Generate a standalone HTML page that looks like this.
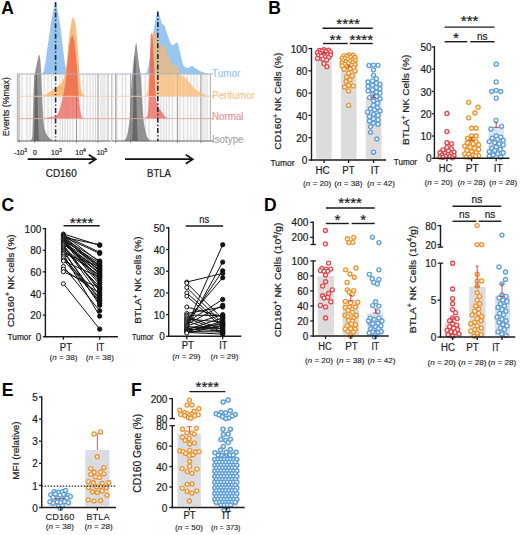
<!DOCTYPE html>
<html><head><meta charset="utf-8"><style>
html,body{margin:0;padding:0;background:#fff;width:520px;height:535px;overflow:hidden;}
svg{display:block;font-family:"Liberation Sans", sans-serif;}
</style></head><body>
<svg width="520" height="535" viewBox="0 0 520 535">
<rect width="520" height="535" fill="#fff"/>
<rect x="316.10" y="53.61" width="15.60" height="105.19" fill="#dcdcdc"/>
<rect x="341.00" y="66.98" width="15.60" height="91.82" fill="#dcdcdc"/>
<rect x="365.80" y="97.62" width="15.80" height="61.18" fill="#e0dcdc"/>
<circle cx="370.50" cy="132.37" r="2.0" stroke="#5d9edb" fill="#fff" stroke-width="1.35"/>
<circle cx="376.80" cy="138.95" r="2.0" stroke="#5d9edb" fill="#fff" stroke-width="1.35"/>
<circle cx="324.00" cy="49.71" r="2.0" stroke="#e5464b" fill="#fff" stroke-width="1.35"/>
<circle cx="328.50" cy="50.27" r="2.0" stroke="#e5464b" fill="#fff" stroke-width="1.35"/>
<circle cx="319.50" cy="50.49" r="2.0" stroke="#e5464b" fill="#fff" stroke-width="1.35"/>
<circle cx="322.00" cy="51.05" r="2.0" stroke="#e5464b" fill="#fff" stroke-width="1.35"/>
<circle cx="326.00" cy="51.72" r="2.0" stroke="#e5464b" fill="#fff" stroke-width="1.35"/>
<circle cx="330.50" cy="52.16" r="2.0" stroke="#e5464b" fill="#fff" stroke-width="1.35"/>
<circle cx="317.50" cy="52.72" r="2.0" stroke="#e5464b" fill="#fff" stroke-width="1.35"/>
<circle cx="320.50" cy="53.28" r="2.0" stroke="#e5464b" fill="#fff" stroke-width="1.35"/>
<circle cx="323.50" cy="53.95" r="2.0" stroke="#e5464b" fill="#fff" stroke-width="1.35"/>
<circle cx="328.00" cy="54.39" r="2.0" stroke="#e5464b" fill="#fff" stroke-width="1.35"/>
<circle cx="330.50" cy="54.95" r="2.0" stroke="#e5464b" fill="#fff" stroke-width="1.35"/>
<circle cx="318.50" cy="55.51" r="2.0" stroke="#e5464b" fill="#fff" stroke-width="1.35"/>
<circle cx="321.50" cy="56.18" r="2.0" stroke="#e5464b" fill="#fff" stroke-width="1.35"/>
<circle cx="325.50" cy="56.84" r="2.0" stroke="#e5464b" fill="#fff" stroke-width="1.35"/>
<circle cx="328.50" cy="57.51" r="2.0" stroke="#e5464b" fill="#fff" stroke-width="1.35"/>
<circle cx="317.50" cy="58.40" r="2.0" stroke="#e5464b" fill="#fff" stroke-width="1.35"/>
<circle cx="323.00" cy="59.18" r="2.0" stroke="#e5464b" fill="#fff" stroke-width="1.35"/>
<circle cx="326.50" cy="59.96" r="2.0" stroke="#e5464b" fill="#fff" stroke-width="1.35"/>
<circle cx="324.00" cy="63.64" r="2.0" stroke="#e5464b" fill="#fff" stroke-width="1.35"/>
<circle cx="327.00" cy="66.65" r="2.0" stroke="#e5464b" fill="#fff" stroke-width="1.35"/>
<circle cx="348.60" cy="54.95" r="2.0" stroke="#f0922a" fill="#fff" stroke-width="1.35"/>
<circle cx="353.10" cy="55.28" r="2.0" stroke="#f0922a" fill="#fff" stroke-width="1.35"/>
<circle cx="344.10" cy="55.84" r="2.0" stroke="#f0922a" fill="#fff" stroke-width="1.35"/>
<circle cx="346.60" cy="56.40" r="2.0" stroke="#f0922a" fill="#fff" stroke-width="1.35"/>
<circle cx="350.60" cy="56.95" r="2.0" stroke="#f0922a" fill="#fff" stroke-width="1.35"/>
<circle cx="355.10" cy="57.51" r="2.0" stroke="#f0922a" fill="#fff" stroke-width="1.35"/>
<circle cx="342.10" cy="58.07" r="2.0" stroke="#f0922a" fill="#fff" stroke-width="1.35"/>
<circle cx="345.10" cy="58.63" r="2.0" stroke="#f0922a" fill="#fff" stroke-width="1.35"/>
<circle cx="348.10" cy="59.18" r="2.0" stroke="#f0922a" fill="#fff" stroke-width="1.35"/>
<circle cx="352.60" cy="59.74" r="2.0" stroke="#f0922a" fill="#fff" stroke-width="1.35"/>
<circle cx="355.10" cy="60.30" r="2.0" stroke="#f0922a" fill="#fff" stroke-width="1.35"/>
<circle cx="343.10" cy="60.85" r="2.0" stroke="#f0922a" fill="#fff" stroke-width="1.35"/>
<circle cx="350.10" cy="61.41" r="2.0" stroke="#f0922a" fill="#fff" stroke-width="1.35"/>
<circle cx="346.10" cy="61.97" r="2.0" stroke="#f0922a" fill="#fff" stroke-width="1.35"/>
<circle cx="353.10" cy="62.53" r="2.0" stroke="#f0922a" fill="#fff" stroke-width="1.35"/>
<circle cx="342.10" cy="63.08" r="2.0" stroke="#f0922a" fill="#fff" stroke-width="1.35"/>
<circle cx="348.60" cy="63.64" r="2.0" stroke="#f0922a" fill="#fff" stroke-width="1.35"/>
<circle cx="344.60" cy="64.20" r="2.0" stroke="#f0922a" fill="#fff" stroke-width="1.35"/>
<circle cx="355.10" cy="64.75" r="2.0" stroke="#f0922a" fill="#fff" stroke-width="1.35"/>
<circle cx="351.60" cy="65.31" r="2.0" stroke="#f0922a" fill="#fff" stroke-width="1.35"/>
<circle cx="342.10" cy="65.87" r="2.0" stroke="#f0922a" fill="#fff" stroke-width="1.35"/>
<circle cx="347.10" cy="66.42" r="2.0" stroke="#f0922a" fill="#fff" stroke-width="1.35"/>
<circle cx="353.60" cy="67.54" r="2.0" stroke="#f0922a" fill="#fff" stroke-width="1.35"/>
<circle cx="350.10" cy="68.65" r="2.0" stroke="#f0922a" fill="#fff" stroke-width="1.35"/>
<circle cx="344.10" cy="69.21" r="2.0" stroke="#f0922a" fill="#fff" stroke-width="1.35"/>
<circle cx="355.10" cy="70.88" r="2.0" stroke="#f0922a" fill="#fff" stroke-width="1.35"/>
<circle cx="348.60" cy="73.11" r="2.0" stroke="#f0922a" fill="#fff" stroke-width="1.35"/>
<circle cx="352.10" cy="75.89" r="2.0" stroke="#f0922a" fill="#fff" stroke-width="1.35"/>
<circle cx="346.60" cy="77.01" r="2.0" stroke="#f0922a" fill="#fff" stroke-width="1.35"/>
<circle cx="350.10" cy="79.79" r="2.0" stroke="#f0922a" fill="#fff" stroke-width="1.35"/>
<circle cx="346.10" cy="81.46" r="2.0" stroke="#f0922a" fill="#fff" stroke-width="1.35"/>
<circle cx="348.60" cy="85.36" r="2.0" stroke="#f0922a" fill="#fff" stroke-width="1.35"/>
<circle cx="353.10" cy="85.92" r="2.0" stroke="#f0922a" fill="#fff" stroke-width="1.35"/>
<circle cx="344.60" cy="87.03" r="2.0" stroke="#f0922a" fill="#fff" stroke-width="1.35"/>
<circle cx="348.60" cy="90.93" r="2.0" stroke="#f0922a" fill="#fff" stroke-width="1.35"/>
<circle cx="348.60" cy="105.41" r="2.0" stroke="#f0922a" fill="#fff" stroke-width="1.35"/>
<circle cx="373.50" cy="65.09" r="2.0" stroke="#5d9edb" fill="#fff" stroke-width="1.35"/>
<circle cx="378.00" cy="65.31" r="2.0" stroke="#5d9edb" fill="#fff" stroke-width="1.35"/>
<circle cx="369.00" cy="65.53" r="2.0" stroke="#5d9edb" fill="#fff" stroke-width="1.35"/>
<circle cx="373.50" cy="69.77" r="2.0" stroke="#5d9edb" fill="#fff" stroke-width="1.35"/>
<circle cx="373.50" cy="75.34" r="2.0" stroke="#5d9edb" fill="#fff" stroke-width="1.35"/>
<circle cx="376.50" cy="78.68" r="2.0" stroke="#5d9edb" fill="#fff" stroke-width="1.35"/>
<circle cx="372.50" cy="80.91" r="2.0" stroke="#5d9edb" fill="#fff" stroke-width="1.35"/>
<circle cx="368.00" cy="82.02" r="2.0" stroke="#5d9edb" fill="#fff" stroke-width="1.35"/>
<circle cx="376.50" cy="83.13" r="2.0" stroke="#5d9edb" fill="#fff" stroke-width="1.35"/>
<circle cx="380.00" cy="84.25" r="2.0" stroke="#5d9edb" fill="#fff" stroke-width="1.35"/>
<circle cx="372.50" cy="85.36" r="2.0" stroke="#5d9edb" fill="#fff" stroke-width="1.35"/>
<circle cx="368.00" cy="86.48" r="2.0" stroke="#5d9edb" fill="#fff" stroke-width="1.35"/>
<circle cx="376.50" cy="87.59" r="2.0" stroke="#5d9edb" fill="#fff" stroke-width="1.35"/>
<circle cx="380.00" cy="88.70" r="2.0" stroke="#5d9edb" fill="#fff" stroke-width="1.35"/>
<circle cx="372.50" cy="89.82" r="2.0" stroke="#5d9edb" fill="#fff" stroke-width="1.35"/>
<circle cx="368.00" cy="90.93" r="2.0" stroke="#5d9edb" fill="#fff" stroke-width="1.35"/>
<circle cx="376.50" cy="92.05" r="2.0" stroke="#5d9edb" fill="#fff" stroke-width="1.35"/>
<circle cx="380.00" cy="93.16" r="2.0" stroke="#5d9edb" fill="#fff" stroke-width="1.35"/>
<circle cx="372.50" cy="94.27" r="2.0" stroke="#5d9edb" fill="#fff" stroke-width="1.35"/>
<circle cx="376.50" cy="96.50" r="2.0" stroke="#5d9edb" fill="#fff" stroke-width="1.35"/>
<circle cx="369.50" cy="97.62" r="2.0" stroke="#5d9edb" fill="#fff" stroke-width="1.35"/>
<circle cx="380.00" cy="98.73" r="2.0" stroke="#5d9edb" fill="#fff" stroke-width="1.35"/>
<circle cx="373.50" cy="100.96" r="2.0" stroke="#5d9edb" fill="#fff" stroke-width="1.35"/>
<circle cx="377.50" cy="103.19" r="2.0" stroke="#5d9edb" fill="#fff" stroke-width="1.35"/>
<circle cx="373.50" cy="105.41" r="2.0" stroke="#5d9edb" fill="#fff" stroke-width="1.35"/>
<circle cx="377.50" cy="107.64" r="2.0" stroke="#5d9edb" fill="#fff" stroke-width="1.35"/>
<circle cx="370.50" cy="108.76" r="2.0" stroke="#5d9edb" fill="#fff" stroke-width="1.35"/>
<circle cx="374.50" cy="109.87" r="2.0" stroke="#5d9edb" fill="#fff" stroke-width="1.35"/>
<circle cx="380.00" cy="110.98" r="2.0" stroke="#5d9edb" fill="#fff" stroke-width="1.35"/>
<circle cx="367.50" cy="112.10" r="2.0" stroke="#5d9edb" fill="#fff" stroke-width="1.35"/>
<circle cx="373.50" cy="114.33" r="2.0" stroke="#5d9edb" fill="#fff" stroke-width="1.35"/>
<circle cx="378.00" cy="115.44" r="2.0" stroke="#5d9edb" fill="#fff" stroke-width="1.35"/>
<circle cx="369.50" cy="116.55" r="2.0" stroke="#5d9edb" fill="#fff" stroke-width="1.35"/>
<circle cx="373.50" cy="118.78" r="2.0" stroke="#5d9edb" fill="#fff" stroke-width="1.35"/>
<circle cx="378.00" cy="119.90" r="2.0" stroke="#5d9edb" fill="#fff" stroke-width="1.35"/>
<circle cx="369.50" cy="121.01" r="2.0" stroke="#5d9edb" fill="#fff" stroke-width="1.35"/>
<circle cx="373.50" cy="123.24" r="2.0" stroke="#5d9edb" fill="#fff" stroke-width="1.35"/>
<circle cx="378.00" cy="124.35" r="2.0" stroke="#5d9edb" fill="#fff" stroke-width="1.35"/>
<circle cx="370.50" cy="126.58" r="2.0" stroke="#5d9edb" fill="#fff" stroke-width="1.35"/>
<circle cx="373.50" cy="152.20" r="2.0" stroke="#5d9edb" fill="#fff" stroke-width="1.35"/>
<line x1="324.00" y1="53.61" x2="324.00" y2="52.83" stroke="#c83a3a" stroke-width="1.0" stroke-linecap="butt"/>
<line x1="322.50" y1="52.83" x2="325.50" y2="52.83" stroke="#c83a3a" stroke-width="1.0" stroke-linecap="butt"/>
<line x1="321.30" y1="53.61" x2="326.70" y2="53.61" stroke="#c83a3a" stroke-width="1.0" stroke-linecap="butt"/>
<line x1="348.60" y1="66.98" x2="348.60" y2="65.31" stroke="#c25a12" stroke-width="1.0" stroke-linecap="butt"/>
<line x1="347.10" y1="65.31" x2="350.10" y2="65.31" stroke="#c25a12" stroke-width="1.0" stroke-linecap="butt"/>
<line x1="345.90" y1="66.98" x2="351.30" y2="66.98" stroke="#c25a12" stroke-width="1.0" stroke-linecap="butt"/>
<line x1="373.50" y1="97.62" x2="373.50" y2="94.83" stroke="#a84a5a" stroke-width="1.0" stroke-linecap="butt"/>
<line x1="372.00" y1="94.83" x2="375.00" y2="94.83" stroke="#a84a5a" stroke-width="1.0" stroke-linecap="butt"/>
<line x1="370.80" y1="97.62" x2="376.20" y2="97.62" stroke="#a84a5a" stroke-width="1.0" stroke-linecap="butt"/>
<line x1="311.50" y1="160.70" x2="311.50" y2="47.90" stroke="#1a1a1a" stroke-width="1.4" stroke-linecap="butt"/>
<line x1="310.80" y1="160.00" x2="386.20" y2="160.00" stroke="#1a1a1a" stroke-width="1.4" stroke-linecap="butt"/>
<line x1="308.50" y1="160.00" x2="311.50" y2="160.00" stroke="#1a1a1a" stroke-width="1.3" stroke-linecap="butt"/>
<text x="307.40" y="164.10" font-size="10" text-anchor="end" fill="#1a1a1a" stroke="#1a1a1a" stroke-width="0.2">0</text>
<line x1="308.50" y1="137.72" x2="311.50" y2="137.72" stroke="#1a1a1a" stroke-width="1.3" stroke-linecap="butt"/>
<text x="307.40" y="141.82" font-size="10" text-anchor="end" fill="#1a1a1a" stroke="#1a1a1a" stroke-width="0.2">20</text>
<line x1="308.50" y1="115.44" x2="311.50" y2="115.44" stroke="#1a1a1a" stroke-width="1.3" stroke-linecap="butt"/>
<text x="307.40" y="119.54" font-size="10" text-anchor="end" fill="#1a1a1a" stroke="#1a1a1a" stroke-width="0.2">40</text>
<line x1="308.50" y1="93.16" x2="311.50" y2="93.16" stroke="#1a1a1a" stroke-width="1.3" stroke-linecap="butt"/>
<text x="307.40" y="97.26" font-size="10" text-anchor="end" fill="#1a1a1a" stroke="#1a1a1a" stroke-width="0.2">60</text>
<line x1="308.50" y1="70.88" x2="311.50" y2="70.88" stroke="#1a1a1a" stroke-width="1.3" stroke-linecap="butt"/>
<text x="307.40" y="74.98" font-size="10" text-anchor="end" fill="#1a1a1a" stroke="#1a1a1a" stroke-width="0.2">80</text>
<line x1="308.50" y1="48.60" x2="311.50" y2="48.60" stroke="#1a1a1a" stroke-width="1.3" stroke-linecap="butt"/>
<text x="307.40" y="52.70" font-size="10" text-anchor="end" fill="#1a1a1a" stroke="#1a1a1a" stroke-width="0.2">100</text>
<line x1="324.00" y1="160.00" x2="324.00" y2="163.00" stroke="#1a1a1a" stroke-width="1.3" stroke-linecap="butt"/>
<line x1="348.60" y1="160.00" x2="348.60" y2="163.00" stroke="#1a1a1a" stroke-width="1.3" stroke-linecap="butt"/>
<line x1="373.50" y1="160.00" x2="373.50" y2="163.00" stroke="#1a1a1a" stroke-width="1.3" stroke-linecap="butt"/>
<text x="322.60" y="173.50" font-size="10" text-anchor="middle" fill="#1a1a1a" stroke="#1a1a1a" stroke-width="0.2" textLength="14.2" lengthAdjust="spacingAndGlyphs">HC</text>
<text x="348.40" y="173.50" font-size="10" text-anchor="middle" fill="#1a1a1a" stroke="#1a1a1a" stroke-width="0.2" textLength="12.4" lengthAdjust="spacingAndGlyphs">PT</text>
<text x="375.00" y="173.50" font-size="10" text-anchor="middle" fill="#1a1a1a" stroke="#1a1a1a" stroke-width="0.2" textLength="8.6" lengthAdjust="spacingAndGlyphs">IT</text>
<text x="317.10" y="185.60" font-size="8.1" text-anchor="middle" fill="#222" stroke="#222" stroke-width="0.12">(<tspan font-style="italic">n</tspan> = 20)</text>
<text x="348.40" y="185.60" font-size="8.1" text-anchor="middle" fill="#222" stroke="#222" stroke-width="0.12">(<tspan font-style="italic">n</tspan> = 38)</text>
<text x="381.00" y="185.60" font-size="8.1" text-anchor="middle" fill="#222" stroke="#222" stroke-width="0.12">(<tspan font-style="italic">n</tspan> = 42)</text>
<text x="270.50" y="166.00" font-size="8.7" text-anchor="start" fill="#1a1a1a" stroke="#1a1a1a" stroke-width="0.2" textLength="24" lengthAdjust="spacingAndGlyphs">Tumor</text>
<text x="281.30" y="101.20" font-size="9.9" text-anchor="middle" fill="#1a1a1a" stroke="#1a1a1a" stroke-width="0.2" transform="rotate(-90 281.30 101.20)" textLength="97" lengthAdjust="spacingAndGlyphs">CD160<tspan dy="-3.6" font-size="6.6">+</tspan><tspan dy="3.6"> NK Cells (%)</tspan></text>
<line x1="322.50" y1="28.20" x2="372.80" y2="28.20" stroke="#1a1a1a" stroke-width="1.4" stroke-linecap="butt"/>
<text x="348.20" y="28.60" font-size="15.2" text-anchor="middle" fill="#1a1a1a" stroke="#1a1a1a" stroke-width="0.2">****</text>
<line x1="323.00" y1="43.50" x2="347.70" y2="43.50" stroke="#1a1a1a" stroke-width="1.4" stroke-linecap="butt"/>
<text x="335.40" y="44.50" font-size="15.2" text-anchor="middle" fill="#1a1a1a" stroke="#1a1a1a" stroke-width="0.2">**</text>
<line x1="349.70" y1="43.50" x2="372.80" y2="43.50" stroke="#1a1a1a" stroke-width="1.4" stroke-linecap="butt"/>
<text x="361.30" y="44.50" font-size="15.2" text-anchor="middle" fill="#1a1a1a" stroke="#1a1a1a" stroke-width="0.2">****</text>
<rect x="439.20" y="148.94" width="15.60" height="8.16" fill="#e4e0e2"/>
<rect x="464.20" y="140.48" width="15.60" height="16.62" fill="#dfe2e8"/>
<rect x="488.40" y="127.33" width="15.60" height="29.77" fill="#dbe5f2"/>
<circle cx="468.60" cy="102.30" r="2.0" stroke="#f0922a" fill="#fff" stroke-width="1.35"/>
<circle cx="478.10" cy="107.20" r="2.0" stroke="#f0922a" fill="#fff" stroke-width="1.35"/>
<circle cx="474.90" cy="113.00" r="2.0" stroke="#f0922a" fill="#fff" stroke-width="1.35"/>
<circle cx="468.60" cy="117.80" r="2.0" stroke="#f0922a" fill="#fff" stroke-width="1.35"/>
<circle cx="496.00" cy="120.30" r="2.0" stroke="#5d9edb" fill="#fff" stroke-width="1.35"/>
<circle cx="501.50" cy="126.30" r="2.0" stroke="#5d9edb" fill="#fff" stroke-width="1.35"/>
<circle cx="491.00" cy="129.00" r="2.0" stroke="#5d9edb" fill="#fff" stroke-width="1.35"/>
<circle cx="447.00" cy="113.52" r="2.0" stroke="#e5464b" fill="#fff" stroke-width="1.35"/>
<circle cx="447.00" cy="131.56" r="2.0" stroke="#e5464b" fill="#fff" stroke-width="1.35"/>
<circle cx="447.00" cy="142.70" r="2.0" stroke="#e5464b" fill="#fff" stroke-width="1.35"/>
<circle cx="451.50" cy="143.82" r="2.0" stroke="#e5464b" fill="#fff" stroke-width="1.35"/>
<circle cx="447.00" cy="147.61" r="2.0" stroke="#e5464b" fill="#fff" stroke-width="1.35"/>
<circle cx="451.50" cy="148.94" r="2.0" stroke="#e5464b" fill="#fff" stroke-width="1.35"/>
<circle cx="443.00" cy="149.83" r="2.0" stroke="#e5464b" fill="#fff" stroke-width="1.35"/>
<circle cx="448.50" cy="151.17" r="2.0" stroke="#e5464b" fill="#fff" stroke-width="1.35"/>
<circle cx="454.00" cy="152.06" r="2.0" stroke="#e5464b" fill="#fff" stroke-width="1.35"/>
<circle cx="440.00" cy="152.73" r="2.0" stroke="#e5464b" fill="#fff" stroke-width="1.35"/>
<circle cx="445.00" cy="153.40" r="2.0" stroke="#e5464b" fill="#fff" stroke-width="1.35"/>
<circle cx="451.00" cy="153.84" r="2.0" stroke="#e5464b" fill="#fff" stroke-width="1.35"/>
<circle cx="448.00" cy="154.51" r="2.0" stroke="#e5464b" fill="#fff" stroke-width="1.35"/>
<circle cx="442.00" cy="155.18" r="2.0" stroke="#e5464b" fill="#fff" stroke-width="1.35"/>
<circle cx="454.00" cy="155.63" r="2.0" stroke="#e5464b" fill="#fff" stroke-width="1.35"/>
<circle cx="445.50" cy="156.07" r="2.0" stroke="#e5464b" fill="#fff" stroke-width="1.35"/>
<circle cx="450.00" cy="156.52" r="2.0" stroke="#e5464b" fill="#fff" stroke-width="1.35"/>
<circle cx="440.00" cy="156.96" r="2.0" stroke="#e5464b" fill="#fff" stroke-width="1.35"/>
<circle cx="443.00" cy="157.41" r="2.0" stroke="#e5464b" fill="#fff" stroke-width="1.35"/>
<circle cx="452.50" cy="157.85" r="2.0" stroke="#e5464b" fill="#fff" stroke-width="1.35"/>
<circle cx="471.60" cy="128.22" r="2.0" stroke="#f0922a" fill="#fff" stroke-width="1.35"/>
<circle cx="476.10" cy="128.22" r="2.0" stroke="#f0922a" fill="#fff" stroke-width="1.35"/>
<circle cx="471.60" cy="136.02" r="2.0" stroke="#f0922a" fill="#fff" stroke-width="1.35"/>
<circle cx="476.10" cy="136.02" r="2.0" stroke="#f0922a" fill="#fff" stroke-width="1.35"/>
<circle cx="467.60" cy="138.25" r="2.0" stroke="#f0922a" fill="#fff" stroke-width="1.35"/>
<circle cx="471.60" cy="140.48" r="2.0" stroke="#f0922a" fill="#fff" stroke-width="1.35"/>
<circle cx="476.10" cy="141.59" r="2.0" stroke="#f0922a" fill="#fff" stroke-width="1.35"/>
<circle cx="467.60" cy="142.70" r="2.0" stroke="#f0922a" fill="#fff" stroke-width="1.35"/>
<circle cx="473.10" cy="143.82" r="2.0" stroke="#f0922a" fill="#fff" stroke-width="1.35"/>
<circle cx="478.60" cy="144.93" r="2.0" stroke="#f0922a" fill="#fff" stroke-width="1.35"/>
<circle cx="464.60" cy="146.05" r="2.0" stroke="#f0922a" fill="#fff" stroke-width="1.35"/>
<circle cx="470.10" cy="147.16" r="2.0" stroke="#f0922a" fill="#fff" stroke-width="1.35"/>
<circle cx="474.60" cy="148.27" r="2.0" stroke="#f0922a" fill="#fff" stroke-width="1.35"/>
<circle cx="478.60" cy="149.39" r="2.0" stroke="#f0922a" fill="#fff" stroke-width="1.35"/>
<circle cx="467.10" cy="150.50" r="2.0" stroke="#f0922a" fill="#fff" stroke-width="1.35"/>
<circle cx="471.60" cy="151.62" r="2.0" stroke="#f0922a" fill="#fff" stroke-width="1.35"/>
<circle cx="476.10" cy="152.73" r="2.0" stroke="#f0922a" fill="#fff" stroke-width="1.35"/>
<circle cx="464.60" cy="153.84" r="2.0" stroke="#f0922a" fill="#fff" stroke-width="1.35"/>
<circle cx="468.60" cy="154.29" r="2.0" stroke="#f0922a" fill="#fff" stroke-width="1.35"/>
<circle cx="473.10" cy="154.96" r="2.0" stroke="#f0922a" fill="#fff" stroke-width="1.35"/>
<circle cx="478.60" cy="155.63" r="2.0" stroke="#f0922a" fill="#fff" stroke-width="1.35"/>
<circle cx="475.60" cy="156.07" r="2.0" stroke="#f0922a" fill="#fff" stroke-width="1.35"/>
<circle cx="466.10" cy="156.96" r="2.0" stroke="#f0922a" fill="#fff" stroke-width="1.35"/>
<circle cx="470.10" cy="157.63" r="2.0" stroke="#f0922a" fill="#fff" stroke-width="1.35"/>
<circle cx="496.20" cy="64.28" r="2.0" stroke="#5d9edb" fill="#fff" stroke-width="1.35"/>
<circle cx="496.20" cy="81.88" r="2.0" stroke="#5d9edb" fill="#fff" stroke-width="1.35"/>
<circle cx="496.20" cy="90.35" r="2.0" stroke="#5d9edb" fill="#fff" stroke-width="1.35"/>
<circle cx="500.70" cy="91.46" r="2.0" stroke="#5d9edb" fill="#fff" stroke-width="1.35"/>
<circle cx="491.70" cy="91.46" r="2.0" stroke="#5d9edb" fill="#fff" stroke-width="1.35"/>
<circle cx="496.20" cy="98.14" r="2.0" stroke="#5d9edb" fill="#fff" stroke-width="1.35"/>
<circle cx="496.20" cy="136.02" r="2.0" stroke="#5d9edb" fill="#fff" stroke-width="1.35"/>
<circle cx="500.70" cy="137.13" r="2.0" stroke="#5d9edb" fill="#fff" stroke-width="1.35"/>
<circle cx="492.20" cy="138.25" r="2.0" stroke="#5d9edb" fill="#fff" stroke-width="1.35"/>
<circle cx="497.70" cy="139.36" r="2.0" stroke="#5d9edb" fill="#fff" stroke-width="1.35"/>
<circle cx="503.20" cy="140.48" r="2.0" stroke="#5d9edb" fill="#fff" stroke-width="1.35"/>
<circle cx="489.20" cy="141.59" r="2.0" stroke="#5d9edb" fill="#fff" stroke-width="1.35"/>
<circle cx="494.70" cy="142.70" r="2.0" stroke="#5d9edb" fill="#fff" stroke-width="1.35"/>
<circle cx="499.20" cy="143.82" r="2.0" stroke="#5d9edb" fill="#fff" stroke-width="1.35"/>
<circle cx="503.20" cy="144.93" r="2.0" stroke="#5d9edb" fill="#fff" stroke-width="1.35"/>
<circle cx="496.20" cy="147.16" r="2.0" stroke="#5d9edb" fill="#fff" stroke-width="1.35"/>
<circle cx="491.70" cy="148.27" r="2.0" stroke="#5d9edb" fill="#fff" stroke-width="1.35"/>
<circle cx="500.20" cy="149.39" r="2.0" stroke="#5d9edb" fill="#fff" stroke-width="1.35"/>
<circle cx="494.70" cy="150.50" r="2.0" stroke="#5d9edb" fill="#fff" stroke-width="1.35"/>
<circle cx="489.20" cy="151.62" r="2.0" stroke="#5d9edb" fill="#fff" stroke-width="1.35"/>
<circle cx="503.20" cy="152.73" r="2.0" stroke="#5d9edb" fill="#fff" stroke-width="1.35"/>
<circle cx="497.70" cy="153.84" r="2.0" stroke="#5d9edb" fill="#fff" stroke-width="1.35"/>
<circle cx="493.20" cy="154.96" r="2.0" stroke="#5d9edb" fill="#fff" stroke-width="1.35"/>
<circle cx="489.20" cy="156.07" r="2.0" stroke="#5d9edb" fill="#fff" stroke-width="1.35"/>
<circle cx="500.70" cy="157.19" r="2.0" stroke="#5d9edb" fill="#fff" stroke-width="1.35"/>
<line x1="496.20" y1="127.33" x2="496.20" y2="122.65" stroke="#a84a5a" stroke-width="1.0" stroke-linecap="butt"/>
<line x1="494.70" y1="122.65" x2="497.70" y2="122.65" stroke="#a84a5a" stroke-width="1.0" stroke-linecap="butt"/>
<line x1="493.50" y1="127.33" x2="498.90" y2="127.33" stroke="#a84a5a" stroke-width="1.0" stroke-linecap="butt"/>
<line x1="471.60" y1="140.48" x2="471.60" y2="137.13" stroke="#c25a12" stroke-width="1.0" stroke-linecap="butt"/>
<line x1="470.10" y1="137.13" x2="473.10" y2="137.13" stroke="#c25a12" stroke-width="1.0" stroke-linecap="butt"/>
<line x1="468.90" y1="140.48" x2="474.30" y2="140.48" stroke="#c25a12" stroke-width="1.0" stroke-linecap="butt"/>
<line x1="434.40" y1="159.00" x2="434.40" y2="46.20" stroke="#1a1a1a" stroke-width="1.4" stroke-linecap="butt"/>
<line x1="433.70" y1="158.30" x2="509.40" y2="158.30" stroke="#1a1a1a" stroke-width="1.4" stroke-linecap="butt"/>
<line x1="432.10" y1="158.30" x2="434.40" y2="158.30" stroke="#1a1a1a" stroke-width="1.3" stroke-linecap="butt"/>
<text x="431.50" y="162.40" font-size="10" text-anchor="end" fill="#1a1a1a" stroke="#1a1a1a" stroke-width="0.2">0</text>
<line x1="432.10" y1="136.02" x2="434.40" y2="136.02" stroke="#1a1a1a" stroke-width="1.3" stroke-linecap="butt"/>
<text x="431.50" y="140.12" font-size="10" text-anchor="end" fill="#1a1a1a" stroke="#1a1a1a" stroke-width="0.2">10</text>
<line x1="432.10" y1="113.74" x2="434.40" y2="113.74" stroke="#1a1a1a" stroke-width="1.3" stroke-linecap="butt"/>
<text x="431.50" y="117.84" font-size="10" text-anchor="end" fill="#1a1a1a" stroke="#1a1a1a" stroke-width="0.2">20</text>
<line x1="432.10" y1="91.46" x2="434.40" y2="91.46" stroke="#1a1a1a" stroke-width="1.3" stroke-linecap="butt"/>
<text x="431.50" y="95.56" font-size="10" text-anchor="end" fill="#1a1a1a" stroke="#1a1a1a" stroke-width="0.2">30</text>
<line x1="432.10" y1="69.18" x2="434.40" y2="69.18" stroke="#1a1a1a" stroke-width="1.3" stroke-linecap="butt"/>
<text x="431.50" y="73.28" font-size="10" text-anchor="end" fill="#1a1a1a" stroke="#1a1a1a" stroke-width="0.2">40</text>
<line x1="432.10" y1="46.90" x2="434.40" y2="46.90" stroke="#1a1a1a" stroke-width="1.3" stroke-linecap="butt"/>
<text x="431.50" y="51.00" font-size="10" text-anchor="end" fill="#1a1a1a" stroke="#1a1a1a" stroke-width="0.2">50</text>
<line x1="447.00" y1="158.30" x2="447.00" y2="161.30" stroke="#1a1a1a" stroke-width="1.3" stroke-linecap="butt"/>
<line x1="471.60" y1="158.30" x2="471.60" y2="161.30" stroke="#1a1a1a" stroke-width="1.3" stroke-linecap="butt"/>
<line x1="496.20" y1="158.30" x2="496.20" y2="161.30" stroke="#1a1a1a" stroke-width="1.3" stroke-linecap="butt"/>
<text x="445.60" y="172.10" font-size="10" text-anchor="middle" fill="#1a1a1a" stroke="#1a1a1a" stroke-width="0.2" textLength="13.5" lengthAdjust="spacingAndGlyphs">HC</text>
<text x="472.30" y="172.10" font-size="10" text-anchor="middle" fill="#1a1a1a" stroke="#1a1a1a" stroke-width="0.2" textLength="12.9" lengthAdjust="spacingAndGlyphs">PT</text>
<text x="498.20" y="172.10" font-size="10" text-anchor="middle" fill="#1a1a1a" stroke="#1a1a1a" stroke-width="0.2" textLength="9" lengthAdjust="spacingAndGlyphs">IT</text>
<text x="438.70" y="184.80" font-size="8.1" text-anchor="middle" fill="#222" stroke="#222" stroke-width="0.12">(<tspan font-style="italic">n</tspan> = 20)</text>
<text x="471.50" y="184.80" font-size="8.1" text-anchor="middle" fill="#222" stroke="#222" stroke-width="0.12">(<tspan font-style="italic">n</tspan> = 28)</text>
<text x="503.10" y="184.80" font-size="8.1" text-anchor="middle" fill="#222" stroke="#222" stroke-width="0.12">(<tspan font-style="italic">n</tspan> = 28)</text>
<text x="393.80" y="164.50" font-size="8.7" text-anchor="start" fill="#1a1a1a" stroke="#1a1a1a" stroke-width="0.2" textLength="23.2" lengthAdjust="spacingAndGlyphs">Tumor</text>
<text x="409.20" y="99.80" font-size="9.9" text-anchor="middle" fill="#1a1a1a" stroke="#1a1a1a" stroke-width="0.2" transform="rotate(-90 409.20 99.80)" textLength="90.4" lengthAdjust="spacingAndGlyphs">BTLA<tspan dy="-3.6" font-size="6.6">+</tspan><tspan dy="3.6"> NK Cells (%)</tspan></text>
<line x1="444.60" y1="27.10" x2="494.60" y2="27.10" stroke="#1a1a1a" stroke-width="1.4" stroke-linecap="butt"/>
<text x="469.60" y="26.30" font-size="15.2" text-anchor="middle" fill="#1a1a1a" stroke="#1a1a1a" stroke-width="0.2">***</text>
<line x1="444.60" y1="41.70" x2="467.30" y2="41.70" stroke="#1a1a1a" stroke-width="1.4" stroke-linecap="butt"/>
<text x="456.00" y="43.30" font-size="15.2" text-anchor="middle" fill="#1a1a1a" stroke="#1a1a1a" stroke-width="0.2">*</text>
<line x1="470.20" y1="41.70" x2="494.60" y2="41.70" stroke="#1a1a1a" stroke-width="1.4" stroke-linecap="butt"/>
<text x="482.20" y="40.30" font-size="11" text-anchor="middle" fill="#1a1a1a" stroke="#1a1a1a" stroke-width="0.2" textLength="10.6" lengthAdjust="spacingAndGlyphs">ns</text>
<line x1="63.40" y1="234.00" x2="99.70" y2="245.36" stroke="#111" stroke-width="1.0" stroke-linecap="butt"/>
<line x1="63.40" y1="234.55" x2="99.70" y2="262.11" stroke="#111" stroke-width="1.0" stroke-linecap="butt"/>
<line x1="63.40" y1="235.09" x2="99.70" y2="252.38" stroke="#111" stroke-width="1.0" stroke-linecap="butt"/>
<line x1="63.40" y1="235.63" x2="99.70" y2="267.52" stroke="#111" stroke-width="1.0" stroke-linecap="butt"/>
<line x1="63.40" y1="236.17" x2="99.70" y2="271.84" stroke="#111" stroke-width="1.0" stroke-linecap="butt"/>
<line x1="63.40" y1="236.71" x2="99.70" y2="253.46" stroke="#111" stroke-width="1.0" stroke-linecap="butt"/>
<line x1="63.40" y1="237.25" x2="99.70" y2="244.81" stroke="#111" stroke-width="1.0" stroke-linecap="butt"/>
<line x1="63.40" y1="237.79" x2="99.70" y2="268.60" stroke="#111" stroke-width="1.0" stroke-linecap="butt"/>
<line x1="63.40" y1="238.33" x2="99.70" y2="261.03" stroke="#111" stroke-width="1.0" stroke-linecap="butt"/>
<line x1="63.40" y1="238.87" x2="99.70" y2="280.49" stroke="#111" stroke-width="1.0" stroke-linecap="butt"/>
<line x1="63.40" y1="239.41" x2="99.70" y2="265.35" stroke="#111" stroke-width="1.0" stroke-linecap="butt"/>
<line x1="63.40" y1="239.95" x2="99.70" y2="282.65" stroke="#111" stroke-width="1.0" stroke-linecap="butt"/>
<line x1="63.40" y1="240.49" x2="99.70" y2="263.19" stroke="#111" stroke-width="1.0" stroke-linecap="butt"/>
<line x1="63.40" y1="241.03" x2="99.70" y2="278.33" stroke="#111" stroke-width="1.0" stroke-linecap="butt"/>
<line x1="63.40" y1="241.57" x2="99.70" y2="284.81" stroke="#111" stroke-width="1.0" stroke-linecap="butt"/>
<line x1="63.40" y1="242.11" x2="99.70" y2="270.76" stroke="#111" stroke-width="1.0" stroke-linecap="butt"/>
<line x1="63.40" y1="242.65" x2="99.70" y2="265.35" stroke="#111" stroke-width="1.0" stroke-linecap="butt"/>
<line x1="63.40" y1="243.19" x2="99.70" y2="272.92" stroke="#111" stroke-width="1.0" stroke-linecap="butt"/>
<line x1="63.40" y1="243.73" x2="99.70" y2="274.00" stroke="#111" stroke-width="1.0" stroke-linecap="butt"/>
<line x1="63.40" y1="244.27" x2="99.70" y2="269.68" stroke="#111" stroke-width="1.0" stroke-linecap="butt"/>
<line x1="63.40" y1="244.81" x2="99.70" y2="291.30" stroke="#111" stroke-width="1.0" stroke-linecap="butt"/>
<line x1="63.40" y1="245.90" x2="99.70" y2="295.62" stroke="#111" stroke-width="1.0" stroke-linecap="butt"/>
<line x1="63.40" y1="246.98" x2="99.70" y2="289.14" stroke="#111" stroke-width="1.0" stroke-linecap="butt"/>
<line x1="63.40" y1="248.06" x2="99.70" y2="276.16" stroke="#111" stroke-width="1.0" stroke-linecap="butt"/>
<line x1="63.40" y1="249.14" x2="99.70" y2="286.97" stroke="#111" stroke-width="1.0" stroke-linecap="butt"/>
<line x1="63.40" y1="250.22" x2="99.70" y2="305.35" stroke="#111" stroke-width="1.0" stroke-linecap="butt"/>
<line x1="63.40" y1="251.30" x2="99.70" y2="275.08" stroke="#111" stroke-width="1.0" stroke-linecap="butt"/>
<line x1="63.40" y1="252.38" x2="99.70" y2="299.95" stroke="#111" stroke-width="1.0" stroke-linecap="butt"/>
<line x1="63.40" y1="253.46" x2="99.70" y2="266.44" stroke="#111" stroke-width="1.0" stroke-linecap="butt"/>
<line x1="63.40" y1="254.54" x2="99.70" y2="316.16" stroke="#111" stroke-width="1.0" stroke-linecap="butt"/>
<line x1="63.40" y1="256.17" x2="99.70" y2="303.19" stroke="#111" stroke-width="1.0" stroke-linecap="butt"/>
<line x1="63.40" y1="257.79" x2="99.70" y2="297.78" stroke="#111" stroke-width="1.0" stroke-linecap="butt"/>
<line x1="63.40" y1="259.95" x2="99.70" y2="301.03" stroke="#111" stroke-width="1.0" stroke-linecap="butt"/>
<line x1="63.40" y1="261.03" x2="99.70" y2="277.25" stroke="#111" stroke-width="1.0" stroke-linecap="butt"/>
<line x1="63.40" y1="266.44" x2="99.70" y2="310.76" stroke="#111" stroke-width="1.0" stroke-linecap="butt"/>
<line x1="63.40" y1="269.14" x2="99.70" y2="293.46" stroke="#111" stroke-width="1.0" stroke-linecap="butt"/>
<line x1="63.40" y1="271.84" x2="99.70" y2="288.06" stroke="#111" stroke-width="1.0" stroke-linecap="butt"/>
<line x1="63.40" y1="283.73" x2="99.70" y2="329.13" stroke="#111" stroke-width="1.0" stroke-linecap="butt"/>
<circle cx="63.40" cy="234.00" r="2.0" stroke="#111" fill="#fff" stroke-width="1.0"/>
<circle cx="63.40" cy="234.55" r="2.0" stroke="#111" fill="#fff" stroke-width="1.0"/>
<circle cx="63.40" cy="235.09" r="2.0" stroke="#111" fill="#fff" stroke-width="1.0"/>
<circle cx="63.40" cy="235.63" r="2.0" stroke="#111" fill="#fff" stroke-width="1.0"/>
<circle cx="63.40" cy="236.17" r="2.0" stroke="#111" fill="#fff" stroke-width="1.0"/>
<circle cx="63.40" cy="236.71" r="2.0" stroke="#111" fill="#fff" stroke-width="1.0"/>
<circle cx="63.40" cy="237.25" r="2.0" stroke="#111" fill="#fff" stroke-width="1.0"/>
<circle cx="63.40" cy="237.79" r="2.0" stroke="#111" fill="#fff" stroke-width="1.0"/>
<circle cx="63.40" cy="238.33" r="2.0" stroke="#111" fill="#fff" stroke-width="1.0"/>
<circle cx="63.40" cy="238.87" r="2.0" stroke="#111" fill="#fff" stroke-width="1.0"/>
<circle cx="63.40" cy="239.41" r="2.0" stroke="#111" fill="#fff" stroke-width="1.0"/>
<circle cx="63.40" cy="239.95" r="2.0" stroke="#111" fill="#fff" stroke-width="1.0"/>
<circle cx="63.40" cy="240.49" r="2.0" stroke="#111" fill="#fff" stroke-width="1.0"/>
<circle cx="63.40" cy="241.03" r="2.0" stroke="#111" fill="#fff" stroke-width="1.0"/>
<circle cx="63.40" cy="241.57" r="2.0" stroke="#111" fill="#fff" stroke-width="1.0"/>
<circle cx="63.40" cy="242.11" r="2.0" stroke="#111" fill="#fff" stroke-width="1.0"/>
<circle cx="63.40" cy="242.65" r="2.0" stroke="#111" fill="#fff" stroke-width="1.0"/>
<circle cx="63.40" cy="243.19" r="2.0" stroke="#111" fill="#fff" stroke-width="1.0"/>
<circle cx="63.40" cy="243.73" r="2.0" stroke="#111" fill="#fff" stroke-width="1.0"/>
<circle cx="63.40" cy="244.27" r="2.0" stroke="#111" fill="#fff" stroke-width="1.0"/>
<circle cx="63.40" cy="244.81" r="2.0" stroke="#111" fill="#fff" stroke-width="1.0"/>
<circle cx="63.40" cy="245.90" r="2.0" stroke="#111" fill="#fff" stroke-width="1.0"/>
<circle cx="63.40" cy="246.98" r="2.0" stroke="#111" fill="#fff" stroke-width="1.0"/>
<circle cx="63.40" cy="248.06" r="2.0" stroke="#111" fill="#fff" stroke-width="1.0"/>
<circle cx="63.40" cy="249.14" r="2.0" stroke="#111" fill="#fff" stroke-width="1.0"/>
<circle cx="63.40" cy="250.22" r="2.0" stroke="#111" fill="#fff" stroke-width="1.0"/>
<circle cx="63.40" cy="251.30" r="2.0" stroke="#111" fill="#fff" stroke-width="1.0"/>
<circle cx="63.40" cy="252.38" r="2.0" stroke="#111" fill="#fff" stroke-width="1.0"/>
<circle cx="63.40" cy="253.46" r="2.0" stroke="#111" fill="#fff" stroke-width="1.0"/>
<circle cx="63.40" cy="254.54" r="2.0" stroke="#111" fill="#fff" stroke-width="1.0"/>
<circle cx="63.40" cy="256.17" r="2.0" stroke="#111" fill="#fff" stroke-width="1.0"/>
<circle cx="63.40" cy="257.79" r="2.0" stroke="#111" fill="#fff" stroke-width="1.0"/>
<circle cx="63.40" cy="259.95" r="2.0" stroke="#111" fill="#fff" stroke-width="1.0"/>
<circle cx="63.40" cy="261.03" r="2.0" stroke="#111" fill="#fff" stroke-width="1.0"/>
<circle cx="63.40" cy="266.44" r="2.0" stroke="#111" fill="#fff" stroke-width="1.0"/>
<circle cx="63.40" cy="269.14" r="2.0" stroke="#111" fill="#fff" stroke-width="1.0"/>
<circle cx="63.40" cy="271.84" r="2.0" stroke="#111" fill="#fff" stroke-width="1.0"/>
<circle cx="63.40" cy="283.73" r="2.0" stroke="#111" fill="#fff" stroke-width="1.0"/>
<circle cx="99.70" cy="245.36" r="2.2" stroke="#111" fill="#111" stroke-width="0.8"/>
<circle cx="99.70" cy="262.11" r="2.2" stroke="#111" fill="#111" stroke-width="0.8"/>
<circle cx="99.70" cy="252.38" r="2.2" stroke="#111" fill="#111" stroke-width="0.8"/>
<circle cx="99.70" cy="267.52" r="2.2" stroke="#111" fill="#111" stroke-width="0.8"/>
<circle cx="99.70" cy="271.84" r="2.2" stroke="#111" fill="#111" stroke-width="0.8"/>
<circle cx="99.70" cy="253.46" r="2.2" stroke="#111" fill="#111" stroke-width="0.8"/>
<circle cx="99.70" cy="244.81" r="2.2" stroke="#111" fill="#111" stroke-width="0.8"/>
<circle cx="99.70" cy="268.60" r="2.2" stroke="#111" fill="#111" stroke-width="0.8"/>
<circle cx="99.70" cy="261.03" r="2.2" stroke="#111" fill="#111" stroke-width="0.8"/>
<circle cx="99.70" cy="280.49" r="2.2" stroke="#111" fill="#111" stroke-width="0.8"/>
<circle cx="99.70" cy="265.35" r="2.2" stroke="#111" fill="#111" stroke-width="0.8"/>
<circle cx="99.70" cy="282.65" r="2.2" stroke="#111" fill="#111" stroke-width="0.8"/>
<circle cx="99.70" cy="263.19" r="2.2" stroke="#111" fill="#111" stroke-width="0.8"/>
<circle cx="99.70" cy="278.33" r="2.2" stroke="#111" fill="#111" stroke-width="0.8"/>
<circle cx="99.70" cy="284.81" r="2.2" stroke="#111" fill="#111" stroke-width="0.8"/>
<circle cx="99.70" cy="270.76" r="2.2" stroke="#111" fill="#111" stroke-width="0.8"/>
<circle cx="99.70" cy="265.35" r="2.2" stroke="#111" fill="#111" stroke-width="0.8"/>
<circle cx="99.70" cy="272.92" r="2.2" stroke="#111" fill="#111" stroke-width="0.8"/>
<circle cx="99.70" cy="274.00" r="2.2" stroke="#111" fill="#111" stroke-width="0.8"/>
<circle cx="99.70" cy="269.68" r="2.2" stroke="#111" fill="#111" stroke-width="0.8"/>
<circle cx="99.70" cy="291.30" r="2.2" stroke="#111" fill="#111" stroke-width="0.8"/>
<circle cx="99.70" cy="295.62" r="2.2" stroke="#111" fill="#111" stroke-width="0.8"/>
<circle cx="99.70" cy="289.14" r="2.2" stroke="#111" fill="#111" stroke-width="0.8"/>
<circle cx="99.70" cy="276.16" r="2.2" stroke="#111" fill="#111" stroke-width="0.8"/>
<circle cx="99.70" cy="286.97" r="2.2" stroke="#111" fill="#111" stroke-width="0.8"/>
<circle cx="99.70" cy="305.35" r="2.2" stroke="#111" fill="#111" stroke-width="0.8"/>
<circle cx="99.70" cy="275.08" r="2.2" stroke="#111" fill="#111" stroke-width="0.8"/>
<circle cx="99.70" cy="299.95" r="2.2" stroke="#111" fill="#111" stroke-width="0.8"/>
<circle cx="99.70" cy="266.44" r="2.2" stroke="#111" fill="#111" stroke-width="0.8"/>
<circle cx="99.70" cy="316.16" r="2.2" stroke="#111" fill="#111" stroke-width="0.8"/>
<circle cx="99.70" cy="303.19" r="2.2" stroke="#111" fill="#111" stroke-width="0.8"/>
<circle cx="99.70" cy="297.78" r="2.2" stroke="#111" fill="#111" stroke-width="0.8"/>
<circle cx="99.70" cy="301.03" r="2.2" stroke="#111" fill="#111" stroke-width="0.8"/>
<circle cx="99.70" cy="277.25" r="2.2" stroke="#111" fill="#111" stroke-width="0.8"/>
<circle cx="99.70" cy="310.76" r="2.2" stroke="#111" fill="#111" stroke-width="0.8"/>
<circle cx="99.70" cy="293.46" r="2.2" stroke="#111" fill="#111" stroke-width="0.8"/>
<circle cx="99.70" cy="288.06" r="2.2" stroke="#111" fill="#111" stroke-width="0.8"/>
<circle cx="99.70" cy="329.13" r="2.2" stroke="#111" fill="#111" stroke-width="0.8"/>
<line x1="45.40" y1="337.40" x2="45.40" y2="227.90" stroke="#1a1a1a" stroke-width="1.4" stroke-linecap="butt"/>
<line x1="44.70" y1="336.70" x2="117.90" y2="336.70" stroke="#1a1a1a" stroke-width="1.4" stroke-linecap="butt"/>
<line x1="42.80" y1="336.70" x2="45.40" y2="336.70" stroke="#1a1a1a" stroke-width="1.3" stroke-linecap="butt"/>
<text x="41.30" y="340.80" font-size="10" text-anchor="end" fill="#1a1a1a" stroke="#1a1a1a" stroke-width="0.2">0</text>
<line x1="42.80" y1="315.08" x2="45.40" y2="315.08" stroke="#1a1a1a" stroke-width="1.3" stroke-linecap="butt"/>
<text x="41.30" y="319.18" font-size="10" text-anchor="end" fill="#1a1a1a" stroke="#1a1a1a" stroke-width="0.2">20</text>
<line x1="42.80" y1="293.46" x2="45.40" y2="293.46" stroke="#1a1a1a" stroke-width="1.3" stroke-linecap="butt"/>
<text x="41.30" y="297.56" font-size="10" text-anchor="end" fill="#1a1a1a" stroke="#1a1a1a" stroke-width="0.2">40</text>
<line x1="42.80" y1="271.84" x2="45.40" y2="271.84" stroke="#1a1a1a" stroke-width="1.3" stroke-linecap="butt"/>
<text x="41.30" y="275.94" font-size="10" text-anchor="end" fill="#1a1a1a" stroke="#1a1a1a" stroke-width="0.2">60</text>
<line x1="42.80" y1="250.22" x2="45.40" y2="250.22" stroke="#1a1a1a" stroke-width="1.3" stroke-linecap="butt"/>
<text x="41.30" y="254.32" font-size="10" text-anchor="end" fill="#1a1a1a" stroke="#1a1a1a" stroke-width="0.2">80</text>
<line x1="42.80" y1="228.60" x2="45.40" y2="228.60" stroke="#1a1a1a" stroke-width="1.3" stroke-linecap="butt"/>
<text x="41.30" y="232.70" font-size="10" text-anchor="end" fill="#1a1a1a" stroke="#1a1a1a" stroke-width="0.2">100</text>
<line x1="63.40" y1="336.70" x2="63.40" y2="339.70" stroke="#1a1a1a" stroke-width="1.3" stroke-linecap="butt"/>
<line x1="99.70" y1="336.70" x2="99.70" y2="339.70" stroke="#1a1a1a" stroke-width="1.3" stroke-linecap="butt"/>
<text x="65.90" y="350.80" font-size="10" text-anchor="middle" fill="#1a1a1a" stroke="#1a1a1a" stroke-width="0.2" textLength="12.1" lengthAdjust="spacingAndGlyphs">PT</text>
<text x="100.20" y="350.80" font-size="10" text-anchor="middle" fill="#1a1a1a" stroke="#1a1a1a" stroke-width="0.2" textLength="8" lengthAdjust="spacingAndGlyphs">IT</text>
<text x="63.50" y="360.10" font-size="8.1" text-anchor="middle" fill="#222" stroke="#222" stroke-width="0.12">(<tspan font-style="italic">n</tspan> = 38)</text>
<text x="99.80" y="360.10" font-size="8.1" text-anchor="middle" fill="#222" stroke="#222" stroke-width="0.12">(<tspan font-style="italic">n</tspan> = 38)</text>
<text x="7.50" y="339.50" font-size="8.7" text-anchor="start" fill="#1a1a1a" stroke="#1a1a1a" stroke-width="0.2" textLength="23.7" lengthAdjust="spacingAndGlyphs">Tumor</text>
<text x="13.60" y="280.80" font-size="9.9" text-anchor="middle" fill="#1a1a1a" stroke="#1a1a1a" stroke-width="0.2" transform="rotate(-90 13.60 280.80)" textLength="93" lengthAdjust="spacingAndGlyphs">CD160<tspan dy="-3.6" font-size="6.6">+</tspan><tspan dy="3.6"> NK cells (%)</tspan></text>
<line x1="63.50" y1="225.80" x2="99.70" y2="225.80" stroke="#1a1a1a" stroke-width="1.4" stroke-linecap="butt"/>
<text x="81.60" y="228.00" font-size="15.2" text-anchor="middle" fill="#1a1a1a" stroke="#1a1a1a" stroke-width="0.2">****</text>
<line x1="186.80" y1="282.05" x2="222.70" y2="273.37" stroke="#111" stroke-width="1.0" stroke-linecap="butt"/>
<line x1="186.80" y1="283.13" x2="222.70" y2="318.94" stroke="#111" stroke-width="1.0" stroke-linecap="butt"/>
<line x1="186.80" y1="287.48" x2="222.70" y2="323.28" stroke="#111" stroke-width="1.0" stroke-linecap="butt"/>
<line x1="186.80" y1="292.90" x2="222.70" y2="325.45" stroke="#111" stroke-width="1.0" stroke-linecap="butt"/>
<line x1="186.80" y1="296.16" x2="222.70" y2="327.62" stroke="#111" stroke-width="1.0" stroke-linecap="butt"/>
<line x1="186.80" y1="307.00" x2="222.70" y2="316.77" stroke="#111" stroke-width="1.0" stroke-linecap="butt"/>
<line x1="186.80" y1="313.51" x2="222.70" y2="307.00" stroke="#111" stroke-width="1.0" stroke-linecap="butt"/>
<line x1="186.80" y1="315.03" x2="222.70" y2="315.69" stroke="#111" stroke-width="1.0" stroke-linecap="butt"/>
<line x1="186.80" y1="316.12" x2="222.70" y2="329.79" stroke="#111" stroke-width="1.0" stroke-linecap="butt"/>
<line x1="186.80" y1="317.86" x2="222.70" y2="331.96" stroke="#111" stroke-width="1.0" stroke-linecap="butt"/>
<line x1="186.80" y1="318.94" x2="222.70" y2="322.19" stroke="#111" stroke-width="1.0" stroke-linecap="butt"/>
<line x1="186.80" y1="320.03" x2="222.70" y2="277.71" stroke="#111" stroke-width="1.0" stroke-linecap="butt"/>
<line x1="186.80" y1="321.11" x2="222.70" y2="333.05" stroke="#111" stroke-width="1.0" stroke-linecap="butt"/>
<line x1="186.80" y1="322.19" x2="222.70" y2="299.41" stroke="#111" stroke-width="1.0" stroke-linecap="butt"/>
<line x1="186.80" y1="323.28" x2="222.70" y2="270.77" stroke="#111" stroke-width="1.0" stroke-linecap="butt"/>
<line x1="186.80" y1="324.37" x2="222.70" y2="305.27" stroke="#111" stroke-width="1.0" stroke-linecap="butt"/>
<line x1="186.80" y1="325.45" x2="222.70" y2="244.73" stroke="#111" stroke-width="1.0" stroke-linecap="butt"/>
<line x1="186.80" y1="325.88" x2="222.70" y2="314.60" stroke="#111" stroke-width="1.0" stroke-linecap="butt"/>
<line x1="186.80" y1="326.54" x2="222.70" y2="328.70" stroke="#111" stroke-width="1.0" stroke-linecap="butt"/>
<line x1="186.80" y1="327.62" x2="222.70" y2="262.09" stroke="#111" stroke-width="1.0" stroke-linecap="butt"/>
<line x1="186.80" y1="328.49" x2="222.70" y2="324.37" stroke="#111" stroke-width="1.0" stroke-linecap="butt"/>
<line x1="186.80" y1="329.14" x2="222.70" y2="330.88" stroke="#111" stroke-width="1.0" stroke-linecap="butt"/>
<line x1="186.80" y1="329.79" x2="222.70" y2="317.86" stroke="#111" stroke-width="1.0" stroke-linecap="butt"/>
<line x1="186.80" y1="330.22" x2="222.70" y2="326.54" stroke="#111" stroke-width="1.0" stroke-linecap="butt"/>
<line x1="186.80" y1="330.88" x2="222.70" y2="323.28" stroke="#111" stroke-width="1.0" stroke-linecap="butt"/>
<line x1="186.80" y1="331.53" x2="222.70" y2="331.96" stroke="#111" stroke-width="1.0" stroke-linecap="butt"/>
<line x1="186.80" y1="331.96" x2="222.70" y2="321.11" stroke="#111" stroke-width="1.0" stroke-linecap="butt"/>
<line x1="186.80" y1="332.39" x2="222.70" y2="334.13" stroke="#111" stroke-width="1.0" stroke-linecap="butt"/>
<line x1="186.80" y1="333.05" x2="222.70" y2="325.45" stroke="#111" stroke-width="1.0" stroke-linecap="butt"/>
<circle cx="186.80" cy="282.05" r="2.0" stroke="#111" fill="#fff" stroke-width="1.0"/>
<circle cx="186.80" cy="283.13" r="2.0" stroke="#111" fill="#fff" stroke-width="1.0"/>
<circle cx="186.80" cy="287.48" r="2.0" stroke="#111" fill="#fff" stroke-width="1.0"/>
<circle cx="186.80" cy="292.90" r="2.0" stroke="#111" fill="#fff" stroke-width="1.0"/>
<circle cx="186.80" cy="296.16" r="2.0" stroke="#111" fill="#fff" stroke-width="1.0"/>
<circle cx="186.80" cy="307.00" r="2.0" stroke="#111" fill="#fff" stroke-width="1.0"/>
<circle cx="186.80" cy="313.51" r="2.0" stroke="#111" fill="#fff" stroke-width="1.0"/>
<circle cx="186.80" cy="315.03" r="2.0" stroke="#111" fill="#fff" stroke-width="1.0"/>
<circle cx="186.80" cy="316.12" r="2.0" stroke="#111" fill="#fff" stroke-width="1.0"/>
<circle cx="186.80" cy="317.86" r="2.0" stroke="#111" fill="#fff" stroke-width="1.0"/>
<circle cx="186.80" cy="318.94" r="2.0" stroke="#111" fill="#fff" stroke-width="1.0"/>
<circle cx="186.80" cy="320.03" r="2.0" stroke="#111" fill="#fff" stroke-width="1.0"/>
<circle cx="186.80" cy="321.11" r="2.0" stroke="#111" fill="#fff" stroke-width="1.0"/>
<circle cx="186.80" cy="322.19" r="2.0" stroke="#111" fill="#fff" stroke-width="1.0"/>
<circle cx="186.80" cy="323.28" r="2.0" stroke="#111" fill="#fff" stroke-width="1.0"/>
<circle cx="186.80" cy="324.37" r="2.0" stroke="#111" fill="#fff" stroke-width="1.0"/>
<circle cx="186.80" cy="325.45" r="2.0" stroke="#111" fill="#fff" stroke-width="1.0"/>
<circle cx="186.80" cy="325.88" r="2.0" stroke="#111" fill="#fff" stroke-width="1.0"/>
<circle cx="186.80" cy="326.54" r="2.0" stroke="#111" fill="#fff" stroke-width="1.0"/>
<circle cx="186.80" cy="327.62" r="2.0" stroke="#111" fill="#fff" stroke-width="1.0"/>
<circle cx="186.80" cy="328.49" r="2.0" stroke="#111" fill="#fff" stroke-width="1.0"/>
<circle cx="186.80" cy="329.14" r="2.0" stroke="#111" fill="#fff" stroke-width="1.0"/>
<circle cx="186.80" cy="329.79" r="2.0" stroke="#111" fill="#fff" stroke-width="1.0"/>
<circle cx="186.80" cy="330.22" r="2.0" stroke="#111" fill="#fff" stroke-width="1.0"/>
<circle cx="186.80" cy="330.88" r="2.0" stroke="#111" fill="#fff" stroke-width="1.0"/>
<circle cx="186.80" cy="331.53" r="2.0" stroke="#111" fill="#fff" stroke-width="1.0"/>
<circle cx="186.80" cy="331.96" r="2.0" stroke="#111" fill="#fff" stroke-width="1.0"/>
<circle cx="186.80" cy="332.39" r="2.0" stroke="#111" fill="#fff" stroke-width="1.0"/>
<circle cx="186.80" cy="333.05" r="2.0" stroke="#111" fill="#fff" stroke-width="1.0"/>
<circle cx="222.70" cy="273.37" r="2.2" stroke="#111" fill="#111" stroke-width="0.8"/>
<circle cx="222.70" cy="318.94" r="2.2" stroke="#111" fill="#111" stroke-width="0.8"/>
<circle cx="222.70" cy="323.28" r="2.2" stroke="#111" fill="#111" stroke-width="0.8"/>
<circle cx="222.70" cy="325.45" r="2.2" stroke="#111" fill="#111" stroke-width="0.8"/>
<circle cx="222.70" cy="327.62" r="2.2" stroke="#111" fill="#111" stroke-width="0.8"/>
<circle cx="222.70" cy="316.77" r="2.2" stroke="#111" fill="#111" stroke-width="0.8"/>
<circle cx="222.70" cy="307.00" r="2.2" stroke="#111" fill="#111" stroke-width="0.8"/>
<circle cx="222.70" cy="315.69" r="2.2" stroke="#111" fill="#111" stroke-width="0.8"/>
<circle cx="222.70" cy="329.79" r="2.2" stroke="#111" fill="#111" stroke-width="0.8"/>
<circle cx="222.70" cy="331.96" r="2.2" stroke="#111" fill="#111" stroke-width="0.8"/>
<circle cx="222.70" cy="322.19" r="2.2" stroke="#111" fill="#111" stroke-width="0.8"/>
<circle cx="222.70" cy="277.71" r="2.2" stroke="#111" fill="#111" stroke-width="0.8"/>
<circle cx="222.70" cy="333.05" r="2.2" stroke="#111" fill="#111" stroke-width="0.8"/>
<circle cx="222.70" cy="299.41" r="2.2" stroke="#111" fill="#111" stroke-width="0.8"/>
<circle cx="222.70" cy="270.77" r="2.2" stroke="#111" fill="#111" stroke-width="0.8"/>
<circle cx="222.70" cy="305.27" r="2.2" stroke="#111" fill="#111" stroke-width="0.8"/>
<circle cx="222.70" cy="244.73" r="2.2" stroke="#111" fill="#111" stroke-width="0.8"/>
<circle cx="222.70" cy="314.60" r="2.2" stroke="#111" fill="#111" stroke-width="0.8"/>
<circle cx="222.70" cy="328.70" r="2.2" stroke="#111" fill="#111" stroke-width="0.8"/>
<circle cx="222.70" cy="262.09" r="2.2" stroke="#111" fill="#111" stroke-width="0.8"/>
<circle cx="222.70" cy="324.37" r="2.2" stroke="#111" fill="#111" stroke-width="0.8"/>
<circle cx="222.70" cy="330.88" r="2.2" stroke="#111" fill="#111" stroke-width="0.8"/>
<circle cx="222.70" cy="317.86" r="2.2" stroke="#111" fill="#111" stroke-width="0.8"/>
<circle cx="222.70" cy="326.54" r="2.2" stroke="#111" fill="#111" stroke-width="0.8"/>
<circle cx="222.70" cy="323.28" r="2.2" stroke="#111" fill="#111" stroke-width="0.8"/>
<circle cx="222.70" cy="331.96" r="2.2" stroke="#111" fill="#111" stroke-width="0.8"/>
<circle cx="222.70" cy="321.11" r="2.2" stroke="#111" fill="#111" stroke-width="0.8"/>
<circle cx="222.70" cy="334.13" r="2.2" stroke="#111" fill="#111" stroke-width="0.8"/>
<circle cx="222.70" cy="325.45" r="2.2" stroke="#111" fill="#111" stroke-width="0.8"/>
<line x1="168.70" y1="337.00" x2="168.70" y2="227.10" stroke="#1a1a1a" stroke-width="1.4" stroke-linecap="butt"/>
<line x1="168.00" y1="336.30" x2="241.30" y2="336.30" stroke="#1a1a1a" stroke-width="1.4" stroke-linecap="butt"/>
<line x1="166.10" y1="336.30" x2="168.70" y2="336.30" stroke="#1a1a1a" stroke-width="1.3" stroke-linecap="butt"/>
<text x="164.80" y="340.40" font-size="10" text-anchor="end" fill="#1a1a1a" stroke="#1a1a1a" stroke-width="0.2">0</text>
<line x1="166.10" y1="314.60" x2="168.70" y2="314.60" stroke="#1a1a1a" stroke-width="1.3" stroke-linecap="butt"/>
<text x="164.80" y="318.70" font-size="10" text-anchor="end" fill="#1a1a1a" stroke="#1a1a1a" stroke-width="0.2">10</text>
<line x1="166.10" y1="292.90" x2="168.70" y2="292.90" stroke="#1a1a1a" stroke-width="1.3" stroke-linecap="butt"/>
<text x="164.80" y="297.00" font-size="10" text-anchor="end" fill="#1a1a1a" stroke="#1a1a1a" stroke-width="0.2">20</text>
<line x1="166.10" y1="271.20" x2="168.70" y2="271.20" stroke="#1a1a1a" stroke-width="1.3" stroke-linecap="butt"/>
<text x="164.80" y="275.30" font-size="10" text-anchor="end" fill="#1a1a1a" stroke="#1a1a1a" stroke-width="0.2">30</text>
<line x1="166.10" y1="249.50" x2="168.70" y2="249.50" stroke="#1a1a1a" stroke-width="1.3" stroke-linecap="butt"/>
<text x="164.80" y="253.60" font-size="10" text-anchor="end" fill="#1a1a1a" stroke="#1a1a1a" stroke-width="0.2">40</text>
<line x1="166.10" y1="227.80" x2="168.70" y2="227.80" stroke="#1a1a1a" stroke-width="1.3" stroke-linecap="butt"/>
<text x="164.80" y="231.90" font-size="10" text-anchor="end" fill="#1a1a1a" stroke="#1a1a1a" stroke-width="0.2">50</text>
<line x1="186.80" y1="336.30" x2="186.80" y2="339.30" stroke="#1a1a1a" stroke-width="1.3" stroke-linecap="butt"/>
<line x1="222.70" y1="336.30" x2="222.70" y2="339.30" stroke="#1a1a1a" stroke-width="1.3" stroke-linecap="butt"/>
<text x="187.70" y="349.40" font-size="10" text-anchor="middle" fill="#1a1a1a" stroke="#1a1a1a" stroke-width="0.2" textLength="12.1" lengthAdjust="spacingAndGlyphs">PT</text>
<text x="223.30" y="349.40" font-size="10" text-anchor="middle" fill="#1a1a1a" stroke="#1a1a1a" stroke-width="0.2" textLength="8" lengthAdjust="spacingAndGlyphs">IT</text>
<text x="186.40" y="358.80" font-size="8.1" text-anchor="middle" fill="#222" stroke="#222" stroke-width="0.12">(<tspan font-style="italic">n</tspan> = 29)</text>
<text x="224.50" y="358.80" font-size="8.1" text-anchor="middle" fill="#222" stroke="#222" stroke-width="0.12">(<tspan font-style="italic">n</tspan> = 29)</text>
<text x="132.00" y="339.50" font-size="8.7" text-anchor="start" fill="#1a1a1a" stroke="#1a1a1a" stroke-width="0.2" textLength="21.5" lengthAdjust="spacingAndGlyphs">Tumor</text>
<text x="141.40" y="280.00" font-size="9.9" text-anchor="middle" fill="#1a1a1a" stroke="#1a1a1a" stroke-width="0.2" transform="rotate(-90 141.40 280.00)" textLength="87.4" lengthAdjust="spacingAndGlyphs">BTLA<tspan dy="-3.6" font-size="6.6">+</tspan><tspan dy="3.6"> NK cells (%)</tspan></text>
<line x1="185.70" y1="226.00" x2="223.10" y2="226.00" stroke="#1a1a1a" stroke-width="1.4" stroke-linecap="butt"/>
<text x="204.20" y="222.70" font-size="10.5" text-anchor="middle" fill="#1a1a1a" stroke="#1a1a1a" stroke-width="0.2" textLength="9.8" lengthAdjust="spacingAndGlyphs">ns</text>
<rect x="317.70" y="276.15" width="16.30" height="58.65" fill="#dcdcdc"/>
<rect x="342.60" y="300.70" width="16.40" height="34.10" fill="#dcdcdc"/>
<rect x="367.20" y="313.47" width="15.90" height="21.33" fill="#dadde5"/>
<circle cx="328.60" cy="263.10" r="2.0" stroke="#e5464b" fill="#fff" stroke-width="1.35"/>
<circle cx="321.90" cy="268.30" r="2.0" stroke="#e5464b" fill="#fff" stroke-width="1.35"/>
<circle cx="326.30" cy="269.10" r="2.0" stroke="#e5464b" fill="#fff" stroke-width="1.35"/>
<circle cx="330.80" cy="269.10" r="2.0" stroke="#e5464b" fill="#fff" stroke-width="1.35"/>
<circle cx="320.40" cy="270.60" r="2.0" stroke="#e5464b" fill="#fff" stroke-width="1.35"/>
<circle cx="324.10" cy="271.30" r="2.0" stroke="#e5464b" fill="#fff" stroke-width="1.35"/>
<circle cx="327.80" cy="271.30" r="2.0" stroke="#e5464b" fill="#fff" stroke-width="1.35"/>
<circle cx="325.60" cy="275.00" r="2.0" stroke="#e5464b" fill="#fff" stroke-width="1.35"/>
<circle cx="325.60" cy="281.70" r="2.0" stroke="#e5464b" fill="#fff" stroke-width="1.35"/>
<circle cx="322.60" cy="286.10" r="2.0" stroke="#e5464b" fill="#fff" stroke-width="1.35"/>
<circle cx="332.30" cy="289.80" r="2.0" stroke="#e5464b" fill="#fff" stroke-width="1.35"/>
<circle cx="328.60" cy="293.50" r="2.0" stroke="#e5464b" fill="#fff" stroke-width="1.35"/>
<circle cx="322.60" cy="295.70" r="2.0" stroke="#e5464b" fill="#fff" stroke-width="1.35"/>
<circle cx="324.10" cy="298.00" r="2.0" stroke="#e5464b" fill="#fff" stroke-width="1.35"/>
<circle cx="327.80" cy="297.20" r="2.0" stroke="#e5464b" fill="#fff" stroke-width="1.35"/>
<circle cx="330.80" cy="301.70" r="2.0" stroke="#e5464b" fill="#fff" stroke-width="1.35"/>
<circle cx="320.40" cy="305.40" r="2.0" stroke="#e5464b" fill="#fff" stroke-width="1.35"/>
<circle cx="325.60" cy="306.90" r="2.0" stroke="#e5464b" fill="#fff" stroke-width="1.35"/>
<circle cx="325.60" cy="318.00" r="2.0" stroke="#e5464b" fill="#fff" stroke-width="1.35"/>
<circle cx="356.00" cy="268.00" r="2.0" stroke="#f0922a" fill="#fff" stroke-width="1.35"/>
<circle cx="345.60" cy="269.80" r="2.0" stroke="#f0922a" fill="#fff" stroke-width="1.35"/>
<circle cx="350.00" cy="274.00" r="2.0" stroke="#f0922a" fill="#fff" stroke-width="1.35"/>
<circle cx="354.20" cy="277.20" r="2.0" stroke="#f0922a" fill="#fff" stroke-width="1.35"/>
<circle cx="347.10" cy="282.40" r="2.0" stroke="#f0922a" fill="#fff" stroke-width="1.35"/>
<circle cx="347.40" cy="289.80" r="2.0" stroke="#f0922a" fill="#fff" stroke-width="1.35"/>
<circle cx="353.70" cy="290.60" r="2.0" stroke="#f0922a" fill="#fff" stroke-width="1.35"/>
<circle cx="349.30" cy="292.00" r="2.0" stroke="#f0922a" fill="#fff" stroke-width="1.35"/>
<circle cx="352.30" cy="294.30" r="2.0" stroke="#f0922a" fill="#fff" stroke-width="1.35"/>
<circle cx="345.30" cy="301.30" r="2.0" stroke="#f0922a" fill="#fff" stroke-width="1.35"/>
<circle cx="350.60" cy="302.70" r="2.0" stroke="#f0922a" fill="#fff" stroke-width="1.35"/>
<circle cx="357.80" cy="302.20" r="2.0" stroke="#f0922a" fill="#fff" stroke-width="1.35"/>
<circle cx="345.30" cy="307.50" r="2.0" stroke="#f0922a" fill="#fff" stroke-width="1.35"/>
<circle cx="349.60" cy="307.00" r="2.0" stroke="#f0922a" fill="#fff" stroke-width="1.35"/>
<circle cx="355.40" cy="307.00" r="2.0" stroke="#f0922a" fill="#fff" stroke-width="1.35"/>
<circle cx="348.20" cy="310.40" r="2.0" stroke="#f0922a" fill="#fff" stroke-width="1.35"/>
<circle cx="352.50" cy="312.30" r="2.0" stroke="#f0922a" fill="#fff" stroke-width="1.35"/>
<circle cx="344.80" cy="315.20" r="2.0" stroke="#f0922a" fill="#fff" stroke-width="1.35"/>
<circle cx="347.70" cy="316.60" r="2.0" stroke="#f0922a" fill="#fff" stroke-width="1.35"/>
<circle cx="353.90" cy="317.60" r="2.0" stroke="#f0922a" fill="#fff" stroke-width="1.35"/>
<circle cx="356.30" cy="315.20" r="2.0" stroke="#f0922a" fill="#fff" stroke-width="1.35"/>
<circle cx="348.70" cy="320.50" r="2.0" stroke="#f0922a" fill="#fff" stroke-width="1.35"/>
<circle cx="352.50" cy="321.00" r="2.0" stroke="#f0922a" fill="#fff" stroke-width="1.35"/>
<circle cx="347.20" cy="325.80" r="2.0" stroke="#f0922a" fill="#fff" stroke-width="1.35"/>
<circle cx="355.40" cy="324.80" r="2.0" stroke="#f0922a" fill="#fff" stroke-width="1.35"/>
<circle cx="351.50" cy="323.80" r="2.0" stroke="#f0922a" fill="#fff" stroke-width="1.35"/>
<circle cx="345.30" cy="329.10" r="2.0" stroke="#f0922a" fill="#fff" stroke-width="1.35"/>
<circle cx="350.60" cy="328.70" r="2.0" stroke="#f0922a" fill="#fff" stroke-width="1.35"/>
<circle cx="355.40" cy="329.10" r="2.0" stroke="#f0922a" fill="#fff" stroke-width="1.35"/>
<circle cx="347.70" cy="331.50" r="2.0" stroke="#f0922a" fill="#fff" stroke-width="1.35"/>
<circle cx="353.50" cy="332.00" r="2.0" stroke="#f0922a" fill="#fff" stroke-width="1.35"/>
<circle cx="350.60" cy="335.90" r="2.0" stroke="#f0922a" fill="#fff" stroke-width="1.35"/>
<circle cx="378.90" cy="269.80" r="2.0" stroke="#5d9edb" fill="#fff" stroke-width="1.35"/>
<circle cx="369.30" cy="274.30" r="2.0" stroke="#5d9edb" fill="#fff" stroke-width="1.35"/>
<circle cx="372.30" cy="278.70" r="2.0" stroke="#5d9edb" fill="#fff" stroke-width="1.35"/>
<circle cx="378.90" cy="279.40" r="2.0" stroke="#5d9edb" fill="#fff" stroke-width="1.35"/>
<circle cx="373.70" cy="282.40" r="2.0" stroke="#5d9edb" fill="#fff" stroke-width="1.35"/>
<circle cx="377.40" cy="283.90" r="2.0" stroke="#5d9edb" fill="#fff" stroke-width="1.35"/>
<circle cx="375.60" cy="301.70" r="2.0" stroke="#5d9edb" fill="#fff" stroke-width="1.35"/>
<circle cx="372.70" cy="305.60" r="2.0" stroke="#5d9edb" fill="#fff" stroke-width="1.35"/>
<circle cx="378.90" cy="306.10" r="2.0" stroke="#5d9edb" fill="#fff" stroke-width="1.35"/>
<circle cx="378.00" cy="311.80" r="2.0" stroke="#5d9edb" fill="#fff" stroke-width="1.35"/>
<circle cx="370.30" cy="318.10" r="2.0" stroke="#5d9edb" fill="#fff" stroke-width="1.35"/>
<circle cx="378.90" cy="318.10" r="2.0" stroke="#5d9edb" fill="#fff" stroke-width="1.35"/>
<circle cx="374.10" cy="319.50" r="2.0" stroke="#5d9edb" fill="#fff" stroke-width="1.35"/>
<circle cx="370.30" cy="322.90" r="2.0" stroke="#5d9edb" fill="#fff" stroke-width="1.35"/>
<circle cx="372.70" cy="323.80" r="2.0" stroke="#5d9edb" fill="#fff" stroke-width="1.35"/>
<circle cx="378.00" cy="323.40" r="2.0" stroke="#5d9edb" fill="#fff" stroke-width="1.35"/>
<circle cx="380.90" cy="325.80" r="2.0" stroke="#5d9edb" fill="#fff" stroke-width="1.35"/>
<circle cx="375.60" cy="326.70" r="2.0" stroke="#5d9edb" fill="#fff" stroke-width="1.35"/>
<circle cx="370.80" cy="328.70" r="2.0" stroke="#5d9edb" fill="#fff" stroke-width="1.35"/>
<circle cx="373.70" cy="330.10" r="2.0" stroke="#5d9edb" fill="#fff" stroke-width="1.35"/>
<circle cx="378.50" cy="328.70" r="2.0" stroke="#5d9edb" fill="#fff" stroke-width="1.35"/>
<circle cx="372.70" cy="332.00" r="2.0" stroke="#5d9edb" fill="#fff" stroke-width="1.35"/>
<circle cx="378.00" cy="332.50" r="2.0" stroke="#5d9edb" fill="#fff" stroke-width="1.35"/>
<circle cx="375.10" cy="334.90" r="2.0" stroke="#5d9edb" fill="#fff" stroke-width="1.35"/>
<circle cx="368.50" cy="321.00" r="2.0" stroke="#5d9edb" fill="#fff" stroke-width="1.35"/>
<circle cx="382.00" cy="321.00" r="2.0" stroke="#5d9edb" fill="#fff" stroke-width="1.35"/>
<circle cx="369.20" cy="333.00" r="2.0" stroke="#5d9edb" fill="#fff" stroke-width="1.35"/>
<circle cx="381.20" cy="331.50" r="2.0" stroke="#5d9edb" fill="#fff" stroke-width="1.35"/>
<circle cx="374.60" cy="337.00" r="2.0" stroke="#5d9edb" fill="#fff" stroke-width="1.35"/>
<circle cx="325.40" cy="230.50" r="2.0" stroke="#e5464b" fill="#fff" stroke-width="1.35"/>
<circle cx="325.40" cy="243.80" r="2.0" stroke="#e5464b" fill="#fff" stroke-width="1.35"/>
<circle cx="347.50" cy="238.70" r="2.0" stroke="#f0922a" fill="#fff" stroke-width="1.35"/>
<circle cx="353.70" cy="237.30" r="2.0" stroke="#f0922a" fill="#fff" stroke-width="1.35"/>
<circle cx="348.90" cy="242.60" r="2.0" stroke="#f0922a" fill="#fff" stroke-width="1.35"/>
<circle cx="352.80" cy="242.30" r="2.0" stroke="#f0922a" fill="#fff" stroke-width="1.35"/>
<circle cx="372.40" cy="237.30" r="2.0" stroke="#5d9edb" fill="#fff" stroke-width="1.35"/>
<circle cx="378.90" cy="242.60" r="2.0" stroke="#5d9edb" fill="#fff" stroke-width="1.35"/>
<line x1="350.80" y1="300.70" x2="350.80" y2="295.45" stroke="#cf4a4a" stroke-width="1.0" stroke-linecap="butt"/>
<line x1="349.30" y1="295.45" x2="352.30" y2="295.45" stroke="#cf4a4a" stroke-width="1.0" stroke-linecap="butt"/>
<line x1="348.10" y1="300.70" x2="353.50" y2="300.70" stroke="#cf4a4a" stroke-width="1.0" stroke-linecap="butt"/>
<line x1="375.50" y1="313.09" x2="375.50" y2="308.96" stroke="#cf4a4a" stroke-width="1.0" stroke-linecap="butt"/>
<line x1="374.00" y1="308.96" x2="377.00" y2="308.96" stroke="#cf4a4a" stroke-width="1.0" stroke-linecap="butt"/>
<line x1="372.80" y1="313.09" x2="378.20" y2="313.09" stroke="#cf4a4a" stroke-width="1.0" stroke-linecap="butt"/>
<line x1="313.20" y1="221.60" x2="313.20" y2="244.50" stroke="#1a1a1a" stroke-width="1.4" stroke-linecap="butt"/>
<line x1="310.50" y1="244.50" x2="315.90" y2="244.50" stroke="#1a1a1a" stroke-width="1.3" stroke-linecap="butt"/>
<line x1="313.20" y1="260.90" x2="313.20" y2="336.70" stroke="#1a1a1a" stroke-width="1.4" stroke-linecap="butt"/>
<line x1="310.50" y1="260.90" x2="315.90" y2="260.90" stroke="#1a1a1a" stroke-width="1.3" stroke-linecap="butt"/>
<line x1="312.50" y1="336.00" x2="388.80" y2="336.00" stroke="#1a1a1a" stroke-width="1.4" stroke-linecap="butt"/>
<line x1="310.20" y1="222.30" x2="313.20" y2="222.30" stroke="#1a1a1a" stroke-width="1.3" stroke-linecap="butt"/>
<text x="308.30" y="226.40" font-size="10" text-anchor="end" fill="#1a1a1a" stroke="#1a1a1a" stroke-width="0.2">400</text>
<line x1="310.20" y1="237.30" x2="313.20" y2="237.30" stroke="#1a1a1a" stroke-width="1.3" stroke-linecap="butt"/>
<text x="308.30" y="241.40" font-size="10" text-anchor="end" fill="#1a1a1a" stroke="#1a1a1a" stroke-width="0.2">200</text>
<line x1="310.20" y1="336.00" x2="313.20" y2="336.00" stroke="#1a1a1a" stroke-width="1.3" stroke-linecap="butt"/>
<text x="308.30" y="340.10" font-size="10" text-anchor="end" fill="#1a1a1a" stroke="#1a1a1a" stroke-width="0.2">0</text>
<line x1="310.20" y1="320.98" x2="313.20" y2="320.98" stroke="#1a1a1a" stroke-width="1.3" stroke-linecap="butt"/>
<text x="308.30" y="325.08" font-size="10" text-anchor="end" fill="#1a1a1a" stroke="#1a1a1a" stroke-width="0.2">20</text>
<line x1="310.20" y1="305.96" x2="313.20" y2="305.96" stroke="#1a1a1a" stroke-width="1.3" stroke-linecap="butt"/>
<text x="308.30" y="310.06" font-size="10" text-anchor="end" fill="#1a1a1a" stroke="#1a1a1a" stroke-width="0.2">40</text>
<line x1="310.20" y1="290.94" x2="313.20" y2="290.94" stroke="#1a1a1a" stroke-width="1.3" stroke-linecap="butt"/>
<text x="308.30" y="295.04" font-size="10" text-anchor="end" fill="#1a1a1a" stroke="#1a1a1a" stroke-width="0.2">60</text>
<line x1="310.20" y1="275.92" x2="313.20" y2="275.92" stroke="#1a1a1a" stroke-width="1.3" stroke-linecap="butt"/>
<text x="308.30" y="280.02" font-size="10" text-anchor="end" fill="#1a1a1a" stroke="#1a1a1a" stroke-width="0.2">80</text>
<line x1="313.20" y1="260.90" x2="313.20" y2="260.90" stroke="#1a1a1a" stroke-width="1.3" stroke-linecap="butt"/>
<text x="308.30" y="265.00" font-size="10" text-anchor="end" fill="#1a1a1a" stroke="#1a1a1a" stroke-width="0.2">100</text>
<line x1="325.50" y1="336.00" x2="325.50" y2="339.00" stroke="#1a1a1a" stroke-width="1.3" stroke-linecap="butt"/>
<line x1="350.80" y1="336.00" x2="350.80" y2="339.00" stroke="#1a1a1a" stroke-width="1.3" stroke-linecap="butt"/>
<line x1="375.50" y1="336.00" x2="375.50" y2="339.00" stroke="#1a1a1a" stroke-width="1.3" stroke-linecap="butt"/>
<text x="325.00" y="350.00" font-size="10" text-anchor="middle" fill="#1a1a1a" stroke="#1a1a1a" stroke-width="0.2" textLength="13.4" lengthAdjust="spacingAndGlyphs">HC</text>
<text x="351.50" y="350.00" font-size="10" text-anchor="middle" fill="#1a1a1a" stroke="#1a1a1a" stroke-width="0.2" textLength="12.5" lengthAdjust="spacingAndGlyphs">PT</text>
<text x="375.30" y="350.00" font-size="10" text-anchor="middle" fill="#1a1a1a" stroke="#1a1a1a" stroke-width="0.2" textLength="7.7" lengthAdjust="spacingAndGlyphs">IT</text>
<text x="319.00" y="362.70" font-size="8.1" text-anchor="middle" fill="#222" stroke="#222" stroke-width="0.12">(<tspan font-style="italic">n</tspan> = 20)</text>
<text x="350.30" y="362.70" font-size="8.1" text-anchor="middle" fill="#222" stroke="#222" stroke-width="0.12">(<tspan font-style="italic">n</tspan> = 38)</text>
<text x="381.50" y="362.70" font-size="8.1" text-anchor="middle" fill="#222" stroke="#222" stroke-width="0.12">(<tspan font-style="italic">n</tspan> = 42)</text>
<text x="281.40" y="279.90" font-size="9.9" text-anchor="middle" fill="#1a1a1a" stroke="#1a1a1a" stroke-width="0.2" transform="rotate(-90 281.40 279.90)" textLength="114.7" lengthAdjust="spacingAndGlyphs">CD160<tspan dy="-3.6" font-size="6.6">+</tspan><tspan dy="3.6"> NK Cells (10<tspan dy="-3.6" font-size="6.6">4</tspan><tspan dy="3.6">/g)</tspan></tspan></text>
<line x1="325.80" y1="208.00" x2="374.70" y2="208.00" stroke="#1a1a1a" stroke-width="1.4" stroke-linecap="butt"/>
<text x="350.20" y="208.40" font-size="15.2" text-anchor="middle" fill="#1a1a1a" stroke="#1a1a1a" stroke-width="0.2">****</text>
<line x1="325.80" y1="223.50" x2="348.80" y2="223.50" stroke="#1a1a1a" stroke-width="1.4" stroke-linecap="butt"/>
<text x="337.50" y="225.30" font-size="15.2" text-anchor="middle" fill="#1a1a1a" stroke="#1a1a1a" stroke-width="0.2">*</text>
<line x1="351.60" y1="223.50" x2="374.70" y2="223.50" stroke="#1a1a1a" stroke-width="1.4" stroke-linecap="butt"/>
<text x="363.10" y="225.30" font-size="15.2" text-anchor="middle" fill="#1a1a1a" stroke="#1a1a1a" stroke-width="0.2">*</text>
<rect x="444.60" y="322.24" width="16.00" height="13.56" fill="#e4dfe0"/>
<rect x="469.20" y="286.82" width="16.40" height="48.98" fill="#d9dce3"/>
<rect x="494.90" y="296.41" width="15.20" height="39.39" fill="#dae1eb"/>
<circle cx="499.00" cy="266.90" r="2.0" stroke="#5d9edb" fill="#fff" stroke-width="1.35"/>
<circle cx="505.50" cy="272.00" r="2.0" stroke="#5d9edb" fill="#fff" stroke-width="1.35"/>
<circle cx="505.50" cy="279.50" r="2.0" stroke="#5d9edb" fill="#fff" stroke-width="1.35"/>
<circle cx="452.60" cy="263.20" r="2.0" stroke="#e5464b" fill="#fff" stroke-width="1.35"/>
<circle cx="452.60" cy="289.03" r="2.0" stroke="#e5464b" fill="#fff" stroke-width="1.35"/>
<circle cx="452.60" cy="298.62" r="2.0" stroke="#e5464b" fill="#fff" stroke-width="1.35"/>
<circle cx="452.60" cy="303.79" r="2.0" stroke="#e5464b" fill="#fff" stroke-width="1.35"/>
<circle cx="452.60" cy="309.69" r="2.0" stroke="#e5464b" fill="#fff" stroke-width="1.35"/>
<circle cx="455.60" cy="312.65" r="2.0" stroke="#e5464b" fill="#fff" stroke-width="1.35"/>
<circle cx="452.60" cy="317.81" r="2.0" stroke="#e5464b" fill="#fff" stroke-width="1.35"/>
<circle cx="457.10" cy="318.55" r="2.0" stroke="#e5464b" fill="#fff" stroke-width="1.35"/>
<circle cx="449.60" cy="320.76" r="2.0" stroke="#e5464b" fill="#fff" stroke-width="1.35"/>
<circle cx="452.60" cy="323.72" r="2.0" stroke="#e5464b" fill="#fff" stroke-width="1.35"/>
<circle cx="456.60" cy="325.19" r="2.0" stroke="#e5464b" fill="#fff" stroke-width="1.35"/>
<circle cx="449.60" cy="326.67" r="2.0" stroke="#e5464b" fill="#fff" stroke-width="1.35"/>
<circle cx="453.60" cy="328.14" r="2.0" stroke="#e5464b" fill="#fff" stroke-width="1.35"/>
<circle cx="457.60" cy="329.62" r="2.0" stroke="#e5464b" fill="#fff" stroke-width="1.35"/>
<circle cx="447.10" cy="330.36" r="2.0" stroke="#e5464b" fill="#fff" stroke-width="1.35"/>
<circle cx="451.10" cy="331.83" r="2.0" stroke="#e5464b" fill="#fff" stroke-width="1.35"/>
<circle cx="455.10" cy="332.57" r="2.0" stroke="#e5464b" fill="#fff" stroke-width="1.35"/>
<circle cx="459.10" cy="334.05" r="2.0" stroke="#e5464b" fill="#fff" stroke-width="1.35"/>
<circle cx="448.10" cy="334.79" r="2.0" stroke="#e5464b" fill="#fff" stroke-width="1.35"/>
<circle cx="452.60" cy="336.26" r="2.0" stroke="#e5464b" fill="#fff" stroke-width="1.35"/>
<circle cx="477.20" cy="225.60" r="2.0" stroke="#f0922a" fill="#fff" stroke-width="1.35"/>
<circle cx="477.20" cy="244.60" r="2.0" stroke="#f0922a" fill="#fff" stroke-width="1.35"/>
<circle cx="481.70" cy="244.60" r="2.0" stroke="#f0922a" fill="#fff" stroke-width="1.35"/>
<circle cx="477.20" cy="274.27" r="2.0" stroke="#f0922a" fill="#fff" stroke-width="1.35"/>
<circle cx="477.20" cy="280.91" r="2.0" stroke="#f0922a" fill="#fff" stroke-width="1.35"/>
<circle cx="481.70" cy="280.91" r="2.0" stroke="#f0922a" fill="#fff" stroke-width="1.35"/>
<circle cx="477.20" cy="286.08" r="2.0" stroke="#f0922a" fill="#fff" stroke-width="1.35"/>
<circle cx="477.20" cy="292.72" r="2.0" stroke="#f0922a" fill="#fff" stroke-width="1.35"/>
<circle cx="479.70" cy="296.41" r="2.0" stroke="#f0922a" fill="#fff" stroke-width="1.35"/>
<circle cx="477.20" cy="300.10" r="2.0" stroke="#f0922a" fill="#fff" stroke-width="1.35"/>
<circle cx="479.70" cy="303.79" r="2.0" stroke="#f0922a" fill="#fff" stroke-width="1.35"/>
<circle cx="475.70" cy="306.00" r="2.0" stroke="#f0922a" fill="#fff" stroke-width="1.35"/>
<circle cx="478.70" cy="308.96" r="2.0" stroke="#f0922a" fill="#fff" stroke-width="1.35"/>
<circle cx="474.70" cy="311.17" r="2.0" stroke="#f0922a" fill="#fff" stroke-width="1.35"/>
<circle cx="478.70" cy="313.38" r="2.0" stroke="#f0922a" fill="#fff" stroke-width="1.35"/>
<circle cx="472.20" cy="314.86" r="2.0" stroke="#f0922a" fill="#fff" stroke-width="1.35"/>
<circle cx="481.70" cy="316.34" r="2.0" stroke="#f0922a" fill="#fff" stroke-width="1.35"/>
<circle cx="477.20" cy="318.55" r="2.0" stroke="#f0922a" fill="#fff" stroke-width="1.35"/>
<circle cx="481.20" cy="320.76" r="2.0" stroke="#f0922a" fill="#fff" stroke-width="1.35"/>
<circle cx="474.70" cy="322.24" r="2.0" stroke="#f0922a" fill="#fff" stroke-width="1.35"/>
<circle cx="470.70" cy="323.72" r="2.0" stroke="#f0922a" fill="#fff" stroke-width="1.35"/>
<circle cx="477.20" cy="325.93" r="2.0" stroke="#f0922a" fill="#fff" stroke-width="1.35"/>
<circle cx="481.20" cy="328.14" r="2.0" stroke="#f0922a" fill="#fff" stroke-width="1.35"/>
<circle cx="474.70" cy="329.62" r="2.0" stroke="#f0922a" fill="#fff" stroke-width="1.35"/>
<circle cx="470.70" cy="331.10" r="2.0" stroke="#f0922a" fill="#fff" stroke-width="1.35"/>
<circle cx="477.20" cy="333.31" r="2.0" stroke="#f0922a" fill="#fff" stroke-width="1.35"/>
<circle cx="481.20" cy="334.79" r="2.0" stroke="#f0922a" fill="#fff" stroke-width="1.35"/>
<circle cx="474.20" cy="336.26" r="2.0" stroke="#f0922a" fill="#fff" stroke-width="1.35"/>
<circle cx="502.00" cy="235.10" r="2.0" stroke="#5d9edb" fill="#fff" stroke-width="1.35"/>
<circle cx="502.00" cy="283.86" r="2.0" stroke="#5d9edb" fill="#fff" stroke-width="1.35"/>
<circle cx="502.00" cy="294.93" r="2.0" stroke="#5d9edb" fill="#fff" stroke-width="1.35"/>
<circle cx="506.00" cy="296.41" r="2.0" stroke="#5d9edb" fill="#fff" stroke-width="1.35"/>
<circle cx="499.00" cy="297.89" r="2.0" stroke="#5d9edb" fill="#fff" stroke-width="1.35"/>
<circle cx="503.00" cy="300.10" r="2.0" stroke="#5d9edb" fill="#fff" stroke-width="1.35"/>
<circle cx="507.00" cy="301.58" r="2.0" stroke="#5d9edb" fill="#fff" stroke-width="1.35"/>
<circle cx="500.50" cy="303.79" r="2.0" stroke="#5d9edb" fill="#fff" stroke-width="1.35"/>
<circle cx="504.50" cy="306.00" r="2.0" stroke="#5d9edb" fill="#fff" stroke-width="1.35"/>
<circle cx="498.00" cy="307.48" r="2.0" stroke="#5d9edb" fill="#fff" stroke-width="1.35"/>
<circle cx="502.00" cy="309.69" r="2.0" stroke="#5d9edb" fill="#fff" stroke-width="1.35"/>
<circle cx="506.00" cy="311.17" r="2.0" stroke="#5d9edb" fill="#fff" stroke-width="1.35"/>
<circle cx="499.50" cy="313.38" r="2.0" stroke="#5d9edb" fill="#fff" stroke-width="1.35"/>
<circle cx="503.50" cy="314.86" r="2.0" stroke="#5d9edb" fill="#fff" stroke-width="1.35"/>
<circle cx="497.00" cy="317.07" r="2.0" stroke="#5d9edb" fill="#fff" stroke-width="1.35"/>
<circle cx="502.00" cy="319.29" r="2.0" stroke="#5d9edb" fill="#fff" stroke-width="1.35"/>
<circle cx="506.00" cy="320.76" r="2.0" stroke="#5d9edb" fill="#fff" stroke-width="1.35"/>
<circle cx="499.00" cy="322.24" r="2.0" stroke="#5d9edb" fill="#fff" stroke-width="1.35"/>
<circle cx="503.00" cy="324.45" r="2.0" stroke="#5d9edb" fill="#fff" stroke-width="1.35"/>
<circle cx="507.00" cy="325.93" r="2.0" stroke="#5d9edb" fill="#fff" stroke-width="1.35"/>
<circle cx="500.50" cy="328.14" r="2.0" stroke="#5d9edb" fill="#fff" stroke-width="1.35"/>
<circle cx="504.50" cy="329.62" r="2.0" stroke="#5d9edb" fill="#fff" stroke-width="1.35"/>
<circle cx="498.00" cy="331.83" r="2.0" stroke="#5d9edb" fill="#fff" stroke-width="1.35"/>
<circle cx="502.00" cy="334.05" r="2.0" stroke="#5d9edb" fill="#fff" stroke-width="1.35"/>
<circle cx="506.00" cy="335.52" r="2.0" stroke="#5d9edb" fill="#fff" stroke-width="1.35"/>
<line x1="452.60" y1="322.24" x2="452.60" y2="317.81" stroke="#cf4a4a" stroke-width="1.0" stroke-linecap="butt"/>
<line x1="451.10" y1="317.81" x2="454.10" y2="317.81" stroke="#cf4a4a" stroke-width="1.0" stroke-linecap="butt"/>
<line x1="449.90" y1="322.24" x2="455.30" y2="322.24" stroke="#cf4a4a" stroke-width="1.0" stroke-linecap="butt"/>
<line x1="477.20" y1="286.82" x2="477.20" y2="266.15" stroke="#cf4a4a" stroke-width="1.0" stroke-linecap="butt"/>
<line x1="475.70" y1="266.15" x2="478.70" y2="266.15" stroke="#cf4a4a" stroke-width="1.0" stroke-linecap="butt"/>
<line x1="474.50" y1="286.82" x2="479.90" y2="286.82" stroke="#cf4a4a" stroke-width="1.0" stroke-linecap="butt"/>
<line x1="502.00" y1="296.41" x2="502.00" y2="283.86" stroke="#cf4a4a" stroke-width="1.0" stroke-linecap="butt"/>
<line x1="500.50" y1="283.86" x2="503.50" y2="283.86" stroke="#cf4a4a" stroke-width="1.0" stroke-linecap="butt"/>
<line x1="499.30" y1="296.41" x2="504.70" y2="296.41" stroke="#cf4a4a" stroke-width="1.0" stroke-linecap="butt"/>
<line x1="440.50" y1="224.90" x2="440.50" y2="247.10" stroke="#1a1a1a" stroke-width="1.4" stroke-linecap="butt"/>
<line x1="437.80" y1="247.10" x2="443.20" y2="247.10" stroke="#1a1a1a" stroke-width="1.3" stroke-linecap="butt"/>
<line x1="440.50" y1="263.20" x2="440.50" y2="337.70" stroke="#1a1a1a" stroke-width="1.4" stroke-linecap="butt"/>
<line x1="437.80" y1="263.20" x2="443.20" y2="263.20" stroke="#1a1a1a" stroke-width="1.3" stroke-linecap="butt"/>
<line x1="439.80" y1="337.00" x2="515.20" y2="337.00" stroke="#1a1a1a" stroke-width="1.4" stroke-linecap="butt"/>
<line x1="437.50" y1="225.60" x2="440.50" y2="225.60" stroke="#1a1a1a" stroke-width="1.3" stroke-linecap="butt"/>
<text x="436.40" y="229.70" font-size="10" text-anchor="end" fill="#1a1a1a" stroke="#1a1a1a" stroke-width="0.2">80</text>
<line x1="437.50" y1="244.60" x2="440.50" y2="244.60" stroke="#1a1a1a" stroke-width="1.3" stroke-linecap="butt"/>
<text x="436.40" y="248.70" font-size="10" text-anchor="end" fill="#1a1a1a" stroke="#1a1a1a" stroke-width="0.2">20</text>
<line x1="437.50" y1="337.00" x2="440.50" y2="337.00" stroke="#1a1a1a" stroke-width="1.3" stroke-linecap="butt"/>
<text x="436.40" y="341.10" font-size="10" text-anchor="end" fill="#1a1a1a" stroke="#1a1a1a" stroke-width="0.2">0</text>
<line x1="437.50" y1="300.10" x2="440.50" y2="300.10" stroke="#1a1a1a" stroke-width="1.3" stroke-linecap="butt"/>
<text x="436.40" y="304.20" font-size="10" text-anchor="end" fill="#1a1a1a" stroke="#1a1a1a" stroke-width="0.2">5</text>
<line x1="440.50" y1="263.20" x2="440.50" y2="263.20" stroke="#1a1a1a" stroke-width="1.3" stroke-linecap="butt"/>
<text x="436.40" y="267.30" font-size="10" text-anchor="end" fill="#1a1a1a" stroke="#1a1a1a" stroke-width="0.2">10</text>
<line x1="452.60" y1="337.00" x2="452.60" y2="340.00" stroke="#1a1a1a" stroke-width="1.3" stroke-linecap="butt"/>
<line x1="477.20" y1="337.00" x2="477.20" y2="340.00" stroke="#1a1a1a" stroke-width="1.3" stroke-linecap="butt"/>
<line x1="502.00" y1="337.00" x2="502.00" y2="340.00" stroke="#1a1a1a" stroke-width="1.3" stroke-linecap="butt"/>
<text x="448.00" y="351.00" font-size="10" text-anchor="middle" fill="#1a1a1a" stroke="#1a1a1a" stroke-width="0.2" textLength="13.8" lengthAdjust="spacingAndGlyphs">HC</text>
<text x="472.40" y="351.00" font-size="10" text-anchor="middle" fill="#1a1a1a" stroke="#1a1a1a" stroke-width="0.2" textLength="12.5" lengthAdjust="spacingAndGlyphs">PT</text>
<text x="496.00" y="351.00" font-size="10" text-anchor="middle" fill="#1a1a1a" stroke="#1a1a1a" stroke-width="0.2" textLength="7.7" lengthAdjust="spacingAndGlyphs">IT</text>
<text x="441.60" y="364.60" font-size="8.1" text-anchor="middle" fill="#222" stroke="#222" stroke-width="0.12">(<tspan font-style="italic">n</tspan> = 20)</text>
<text x="472.40" y="364.60" font-size="8.1" text-anchor="middle" fill="#222" stroke="#222" stroke-width="0.12">(<tspan font-style="italic">n</tspan> = 28)</text>
<text x="502.20" y="364.60" font-size="8.1" text-anchor="middle" fill="#222" stroke="#222" stroke-width="0.12">(<tspan font-style="italic">n</tspan> = 28)</text>
<text x="416.00" y="279.50" font-size="9.9" text-anchor="middle" fill="#1a1a1a" stroke="#1a1a1a" stroke-width="0.2" transform="rotate(-90 416.00 279.50)" textLength="107.7" lengthAdjust="spacingAndGlyphs">BTLA<tspan dy="-3.6" font-size="6.6">+</tspan><tspan dy="3.6"> NK Cells (10<tspan dy="-3.6" font-size="6.6">4</tspan><tspan dy="3.6">/g)</tspan></tspan></text>
<line x1="452.50" y1="206.25" x2="501.25" y2="206.25" stroke="#1a1a1a" stroke-width="1.4" stroke-linecap="butt"/>
<text x="476.90" y="202.60" font-size="11" text-anchor="middle" fill="#1a1a1a" stroke="#1a1a1a" stroke-width="0.2" textLength="10.6" lengthAdjust="spacingAndGlyphs">ns</text>
<line x1="452.50" y1="221.25" x2="476.25" y2="221.25" stroke="#1a1a1a" stroke-width="1.4" stroke-linecap="butt"/>
<text x="464.40" y="217.60" font-size="11" text-anchor="middle" fill="#1a1a1a" stroke="#1a1a1a" stroke-width="0.2" textLength="10.6" lengthAdjust="spacingAndGlyphs">ns</text>
<line x1="478.75" y1="221.25" x2="501.25" y2="221.25" stroke="#1a1a1a" stroke-width="1.4" stroke-linecap="butt"/>
<text x="490.00" y="217.60" font-size="11" text-anchor="middle" fill="#1a1a1a" stroke="#1a1a1a" stroke-width="0.2" textLength="10.6" lengthAdjust="spacingAndGlyphs">ns</text>
<rect x="85.20" y="450.04" width="24.30" height="56.26" fill="#d9dce3"/>
<rect x="48.50" y="498.66" width="23.00" height="7.64" fill="#e2e6ee"/>
<circle cx="54.20" cy="491.70" r="2.0" stroke="#5d9edb" fill="#fff" stroke-width="1.35"/>
<circle cx="58.60" cy="492.20" r="2.0" stroke="#5d9edb" fill="#fff" stroke-width="1.35"/>
<circle cx="62.30" cy="491.70" r="2.0" stroke="#5d9edb" fill="#fff" stroke-width="1.35"/>
<circle cx="65.50" cy="490.50" r="2.0" stroke="#5d9edb" fill="#fff" stroke-width="1.35"/>
<circle cx="50.80" cy="494.80" r="2.0" stroke="#5d9edb" fill="#fff" stroke-width="1.35"/>
<circle cx="55.40" cy="494.00" r="2.0" stroke="#5d9edb" fill="#fff" stroke-width="1.35"/>
<circle cx="60.00" cy="495.40" r="2.0" stroke="#5d9edb" fill="#fff" stroke-width="1.35"/>
<circle cx="63.50" cy="494.30" r="2.0" stroke="#5d9edb" fill="#fff" stroke-width="1.35"/>
<circle cx="68.10" cy="495.40" r="2.0" stroke="#5d9edb" fill="#fff" stroke-width="1.35"/>
<circle cx="70.40" cy="496.60" r="2.0" stroke="#5d9edb" fill="#fff" stroke-width="1.35"/>
<circle cx="53.10" cy="497.40" r="2.0" stroke="#5d9edb" fill="#fff" stroke-width="1.35"/>
<circle cx="57.70" cy="498.30" r="2.0" stroke="#5d9edb" fill="#fff" stroke-width="1.35"/>
<circle cx="61.70" cy="498.60" r="2.0" stroke="#5d9edb" fill="#fff" stroke-width="1.35"/>
<circle cx="66.90" cy="498.00" r="2.0" stroke="#5d9edb" fill="#fff" stroke-width="1.35"/>
<circle cx="49.90" cy="501.80" r="2.0" stroke="#5d9edb" fill="#fff" stroke-width="1.35"/>
<circle cx="53.10" cy="503.20" r="2.0" stroke="#5d9edb" fill="#fff" stroke-width="1.35"/>
<circle cx="57.10" cy="502.00" r="2.0" stroke="#5d9edb" fill="#fff" stroke-width="1.35"/>
<circle cx="60.60" cy="502.60" r="2.0" stroke="#5d9edb" fill="#fff" stroke-width="1.35"/>
<circle cx="64.60" cy="501.50" r="2.0" stroke="#5d9edb" fill="#fff" stroke-width="1.35"/>
<circle cx="68.40" cy="502.60" r="2.0" stroke="#5d9edb" fill="#fff" stroke-width="1.35"/>
<circle cx="58.60" cy="506.10" r="2.0" stroke="#5d9edb" fill="#fff" stroke-width="1.35"/>
<circle cx="62.30" cy="505.80" r="2.0" stroke="#5d9edb" fill="#fff" stroke-width="1.35"/>
<circle cx="60.30" cy="508.40" r="2.0" stroke="#5d9edb" fill="#fff" stroke-width="1.35"/>
<line x1="55.00" y1="498.60" x2="65.00" y2="498.60" stroke="#b05050" stroke-width="1.0" stroke-linecap="butt"/>
<line x1="97.40" y1="450.04" x2="97.40" y2="433.24" stroke="#e06a6a" stroke-width="1.1" stroke-linecap="butt"/>
<circle cx="94.10" cy="433.91" r="2.0" stroke="#f0922a" fill="#fff" stroke-width="1.35"/>
<circle cx="100.60" cy="431.92" r="2.0" stroke="#f0922a" fill="#fff" stroke-width="1.35"/>
<circle cx="97.30" cy="456.70" r="2.0" stroke="#f0922a" fill="#fff" stroke-width="1.35"/>
<circle cx="90.80" cy="468.60" r="2.0" stroke="#f0922a" fill="#fff" stroke-width="1.35"/>
<circle cx="103.90" cy="467.60" r="2.0" stroke="#f0922a" fill="#fff" stroke-width="1.35"/>
<circle cx="94.10" cy="472.20" r="2.0" stroke="#f0922a" fill="#fff" stroke-width="1.35"/>
<circle cx="100.60" cy="472.20" r="2.0" stroke="#f0922a" fill="#fff" stroke-width="1.35"/>
<circle cx="90.80" cy="474.30" r="2.0" stroke="#f0922a" fill="#fff" stroke-width="1.35"/>
<circle cx="103.90" cy="473.80" r="2.0" stroke="#f0922a" fill="#fff" stroke-width="1.35"/>
<circle cx="95.70" cy="476.90" r="2.0" stroke="#f0922a" fill="#fff" stroke-width="1.35"/>
<circle cx="99.50" cy="477.60" r="2.0" stroke="#f0922a" fill="#fff" stroke-width="1.35"/>
<circle cx="88.40" cy="481.60" r="2.0" stroke="#f0922a" fill="#fff" stroke-width="1.35"/>
<circle cx="93.30" cy="482.70" r="2.0" stroke="#f0922a" fill="#fff" stroke-width="1.35"/>
<circle cx="102.20" cy="483.50" r="2.0" stroke="#f0922a" fill="#fff" stroke-width="1.35"/>
<circle cx="108.70" cy="482.70" r="2.0" stroke="#f0922a" fill="#fff" stroke-width="1.35"/>
<circle cx="88.40" cy="487.60" r="2.0" stroke="#f0922a" fill="#fff" stroke-width="1.35"/>
<circle cx="96.50" cy="486.80" r="2.0" stroke="#f0922a" fill="#fff" stroke-width="1.35"/>
<circle cx="100.60" cy="486.50" r="2.0" stroke="#f0922a" fill="#fff" stroke-width="1.35"/>
<circle cx="106.30" cy="487.60" r="2.0" stroke="#f0922a" fill="#fff" stroke-width="1.35"/>
<circle cx="92.50" cy="491.70" r="2.0" stroke="#f0922a" fill="#fff" stroke-width="1.35"/>
<circle cx="97.30" cy="492.50" r="2.0" stroke="#f0922a" fill="#fff" stroke-width="1.35"/>
<circle cx="102.20" cy="490.90" r="2.0" stroke="#f0922a" fill="#fff" stroke-width="1.35"/>
<circle cx="107.10" cy="495.20" r="2.0" stroke="#f0922a" fill="#fff" stroke-width="1.35"/>
<circle cx="88.40" cy="499.80" r="2.0" stroke="#f0922a" fill="#fff" stroke-width="1.35"/>
<circle cx="94.10" cy="501.10" r="2.0" stroke="#f0922a" fill="#fff" stroke-width="1.35"/>
<circle cx="100.60" cy="500.60" r="2.0" stroke="#f0922a" fill="#fff" stroke-width="1.35"/>
<line x1="41.70" y1="486.20" x2="115.20" y2="486.20" stroke="#222" stroke-width="1.2" stroke-linecap="butt" stroke-dasharray="1.5 1.5"/>
<line x1="41.70" y1="508.20" x2="41.70" y2="396.30" stroke="#1a1a1a" stroke-width="1.4" stroke-linecap="butt"/>
<line x1="41.00" y1="507.50" x2="116.00" y2="507.50" stroke="#1a1a1a" stroke-width="1.4" stroke-linecap="butt"/>
<line x1="39.00" y1="507.50" x2="41.70" y2="507.50" stroke="#1a1a1a" stroke-width="1.3" stroke-linecap="butt"/>
<text x="37.70" y="511.60" font-size="10" text-anchor="end" fill="#1a1a1a" stroke="#1a1a1a" stroke-width="0.2">0</text>
<line x1="39.00" y1="485.40" x2="41.70" y2="485.40" stroke="#1a1a1a" stroke-width="1.3" stroke-linecap="butt"/>
<text x="37.70" y="489.50" font-size="10" text-anchor="end" fill="#1a1a1a" stroke="#1a1a1a" stroke-width="0.2">1</text>
<line x1="39.00" y1="463.30" x2="41.70" y2="463.30" stroke="#1a1a1a" stroke-width="1.3" stroke-linecap="butt"/>
<text x="37.70" y="467.40" font-size="10" text-anchor="end" fill="#1a1a1a" stroke="#1a1a1a" stroke-width="0.2">2</text>
<line x1="39.00" y1="441.20" x2="41.70" y2="441.20" stroke="#1a1a1a" stroke-width="1.3" stroke-linecap="butt"/>
<text x="37.70" y="445.30" font-size="10" text-anchor="end" fill="#1a1a1a" stroke="#1a1a1a" stroke-width="0.2">3</text>
<line x1="39.00" y1="419.10" x2="41.70" y2="419.10" stroke="#1a1a1a" stroke-width="1.3" stroke-linecap="butt"/>
<text x="37.70" y="423.20" font-size="10" text-anchor="end" fill="#1a1a1a" stroke="#1a1a1a" stroke-width="0.2">4</text>
<line x1="39.00" y1="397.00" x2="41.70" y2="397.00" stroke="#1a1a1a" stroke-width="1.3" stroke-linecap="butt"/>
<text x="37.70" y="401.10" font-size="10" text-anchor="end" fill="#1a1a1a" stroke="#1a1a1a" stroke-width="0.2">5</text>
<line x1="60.80" y1="507.50" x2="60.80" y2="510.50" stroke="#1a1a1a" stroke-width="1.3" stroke-linecap="butt"/>
<line x1="97.30" y1="507.50" x2="97.30" y2="510.50" stroke="#1a1a1a" stroke-width="1.3" stroke-linecap="butt"/>
<text x="60.00" y="520.20" font-size="9.3" text-anchor="middle" fill="#1a1a1a" stroke="#1a1a1a" stroke-width="0.1">CD160</text>
<text x="98.00" y="520.20" font-size="9.3" text-anchor="middle" fill="#1a1a1a" stroke="#1a1a1a" stroke-width="0.1">BTLA</text>
<text x="59.80" y="529.10" font-size="8.1" text-anchor="middle" fill="#222" stroke="#222" stroke-width="0.12">(<tspan font-style="italic">n</tspan> = 38)</text>
<text x="98.70" y="529.10" font-size="8.1" text-anchor="middle" fill="#222" stroke="#222" stroke-width="0.12">(<tspan font-style="italic">n</tspan> = 28)</text>
<text x="19.00" y="450.50" font-size="9.9" text-anchor="middle" fill="#1a1a1a" stroke="#1a1a1a" stroke-width="0.2" transform="rotate(-90 19.00 450.50)" textLength="58.3" lengthAdjust="spacingAndGlyphs">MFI (relative)</text>
<rect x="177.50" y="433.30" width="23.30" height="73.00" fill="#dcdde2"/>
<rect x="213.50" y="480.92" width="25.00" height="25.38" fill="#e2e2e6"/>
<circle cx="189.50" cy="400.10" r="2.0" stroke="#f0922a" fill="#fff" stroke-width="1.35"/>
<circle cx="187.10" cy="405.10" r="2.0" stroke="#f0922a" fill="#fff" stroke-width="1.35"/>
<circle cx="191.90" cy="405.10" r="2.0" stroke="#f0922a" fill="#fff" stroke-width="1.35"/>
<circle cx="179.80" cy="410.20" r="2.0" stroke="#f0922a" fill="#fff" stroke-width="1.35"/>
<circle cx="198.90" cy="408.70" r="2.0" stroke="#f0922a" fill="#fff" stroke-width="1.35"/>
<circle cx="194.00" cy="411.20" r="2.0" stroke="#f0922a" fill="#fff" stroke-width="1.35"/>
<circle cx="184.80" cy="412.40" r="2.0" stroke="#f0922a" fill="#fff" stroke-width="1.35"/>
<circle cx="187.20" cy="413.90" r="2.0" stroke="#f0922a" fill="#fff" stroke-width="1.35"/>
<circle cx="191.80" cy="414.20" r="2.0" stroke="#f0922a" fill="#fff" stroke-width="1.35"/>
<circle cx="180.80" cy="414.50" r="2.0" stroke="#f0922a" fill="#fff" stroke-width="1.35"/>
<circle cx="198.30" cy="414.80" r="2.0" stroke="#f0922a" fill="#fff" stroke-width="1.35"/>
<circle cx="184.80" cy="415.50" r="2.0" stroke="#f0922a" fill="#fff" stroke-width="1.35"/>
<circle cx="189.40" cy="415.80" r="2.0" stroke="#f0922a" fill="#fff" stroke-width="1.35"/>
<circle cx="194.60" cy="415.80" r="2.0" stroke="#f0922a" fill="#fff" stroke-width="1.35"/>
<circle cx="188.20" cy="417.60" r="2.0" stroke="#f0922a" fill="#fff" stroke-width="1.35"/>
<circle cx="190.60" cy="418.20" r="2.0" stroke="#f0922a" fill="#fff" stroke-width="1.35"/>
<circle cx="182.50" cy="429.20" r="2.0" stroke="#f0922a" fill="#fff" stroke-width="1.35"/>
<circle cx="196.40" cy="428.30" r="2.0" stroke="#f0922a" fill="#fff" stroke-width="1.35"/>
<circle cx="187.00" cy="432.80" r="2.0" stroke="#f0922a" fill="#fff" stroke-width="1.35"/>
<circle cx="191.90" cy="432.80" r="2.0" stroke="#f0922a" fill="#fff" stroke-width="1.35"/>
<circle cx="194.20" cy="434.10" r="2.0" stroke="#f0922a" fill="#fff" stroke-width="1.35"/>
<circle cx="182.50" cy="437.20" r="2.0" stroke="#f0922a" fill="#fff" stroke-width="1.35"/>
<circle cx="185.20" cy="440.40" r="2.0" stroke="#f0922a" fill="#fff" stroke-width="1.35"/>
<circle cx="189.20" cy="438.60" r="2.0" stroke="#f0922a" fill="#fff" stroke-width="1.35"/>
<circle cx="189.70" cy="444.00" r="2.0" stroke="#f0922a" fill="#fff" stroke-width="1.35"/>
<circle cx="194.20" cy="443.10" r="2.0" stroke="#f0922a" fill="#fff" stroke-width="1.35"/>
<circle cx="189.70" cy="450.30" r="2.0" stroke="#f0922a" fill="#fff" stroke-width="1.35"/>
<circle cx="179.80" cy="450.70" r="2.0" stroke="#f0922a" fill="#fff" stroke-width="1.35"/>
<circle cx="183.00" cy="451.60" r="2.0" stroke="#f0922a" fill="#fff" stroke-width="1.35"/>
<circle cx="185.70" cy="453.40" r="2.0" stroke="#f0922a" fill="#fff" stroke-width="1.35"/>
<circle cx="189.20" cy="455.60" r="2.0" stroke="#f0922a" fill="#fff" stroke-width="1.35"/>
<circle cx="192.80" cy="454.70" r="2.0" stroke="#f0922a" fill="#fff" stroke-width="1.35"/>
<circle cx="195.50" cy="452.00" r="2.0" stroke="#f0922a" fill="#fff" stroke-width="1.35"/>
<circle cx="199.10" cy="451.60" r="2.0" stroke="#f0922a" fill="#fff" stroke-width="1.35"/>
<circle cx="189.70" cy="461.50" r="2.0" stroke="#f0922a" fill="#fff" stroke-width="1.35"/>
<circle cx="189.70" cy="466.40" r="2.0" stroke="#f0922a" fill="#fff" stroke-width="1.35"/>
<circle cx="182.10" cy="468.60" r="2.0" stroke="#f0922a" fill="#fff" stroke-width="1.35"/>
<circle cx="196.90" cy="469.10" r="2.0" stroke="#f0922a" fill="#fff" stroke-width="1.35"/>
<circle cx="187.20" cy="471.60" r="2.0" stroke="#f0922a" fill="#fff" stroke-width="1.35"/>
<circle cx="192.00" cy="473.30" r="2.0" stroke="#f0922a" fill="#fff" stroke-width="1.35"/>
<circle cx="187.20" cy="484.30" r="2.0" stroke="#f0922a" fill="#fff" stroke-width="1.35"/>
<circle cx="192.00" cy="483.90" r="2.0" stroke="#f0922a" fill="#fff" stroke-width="1.35"/>
<circle cx="182.30" cy="488.30" r="2.0" stroke="#f0922a" fill="#fff" stroke-width="1.35"/>
<circle cx="187.20" cy="491.40" r="2.0" stroke="#f0922a" fill="#fff" stroke-width="1.35"/>
<circle cx="192.00" cy="493.10" r="2.0" stroke="#f0922a" fill="#fff" stroke-width="1.35"/>
<circle cx="196.80" cy="490.90" r="2.0" stroke="#f0922a" fill="#fff" stroke-width="1.35"/>
<circle cx="189.40" cy="501.00" r="2.0" stroke="#f0922a" fill="#fff" stroke-width="1.35"/>
<circle cx="223.20" cy="402.10" r="2.0" stroke="#5d9edb" fill="#fff" stroke-width="1.5"/>
<circle cx="228.20" cy="399.90" r="2.0" stroke="#5d9edb" fill="#fff" stroke-width="1.5"/>
<circle cx="230.30" cy="410.70" r="2.0" stroke="#5d9edb" fill="#fff" stroke-width="1.5"/>
<circle cx="221.10" cy="412.50" r="2.0" stroke="#5d9edb" fill="#fff" stroke-width="1.5"/>
<circle cx="225.70" cy="412.80" r="2.0" stroke="#5d9edb" fill="#fff" stroke-width="1.5"/>
<circle cx="216.20" cy="413.80" r="2.0" stroke="#5d9edb" fill="#fff" stroke-width="1.5"/>
<circle cx="235.20" cy="414.40" r="2.0" stroke="#5d9edb" fill="#fff" stroke-width="1.5"/>
<circle cx="219.20" cy="415.00" r="2.0" stroke="#5d9edb" fill="#fff" stroke-width="1.5"/>
<circle cx="232.20" cy="415.90" r="2.0" stroke="#5d9edb" fill="#fff" stroke-width="1.5"/>
<circle cx="222.60" cy="416.80" r="2.0" stroke="#5d9edb" fill="#fff" stroke-width="1.5"/>
<circle cx="228.80" cy="418.10" r="2.0" stroke="#5d9edb" fill="#fff" stroke-width="1.5"/>
<circle cx="225.70" cy="418.40" r="2.0" stroke="#5d9edb" fill="#fff" stroke-width="1.5"/>
<circle cx="223.00" cy="429.30" r="2.0" stroke="#5d9edb" fill="#fff" stroke-width="1.5"/>
<circle cx="230.40" cy="429.30" r="2.0" stroke="#5d9edb" fill="#fff" stroke-width="1.5"/>
<circle cx="223.40" cy="434.50" r="2.0" stroke="#5d9edb" fill="#fff" stroke-width="1.5"/>
<circle cx="228.10" cy="434.00" r="2.0" stroke="#5d9edb" fill="#fff" stroke-width="1.5"/>
<circle cx="221.10" cy="439.60" r="2.0" stroke="#5d9edb" fill="#fff" stroke-width="1.5"/>
<circle cx="225.80" cy="440.60" r="2.0" stroke="#5d9edb" fill="#fff" stroke-width="1.5"/>
<circle cx="230.40" cy="439.20" r="2.0" stroke="#5d9edb" fill="#fff" stroke-width="1.5"/>
<circle cx="228.10" cy="442.40" r="2.0" stroke="#5d9edb" fill="#fff" stroke-width="1.5"/>
<circle cx="223.40" cy="446.60" r="2.0" stroke="#5d9edb" fill="#fff" stroke-width="1.5"/>
<circle cx="220.60" cy="449.90" r="2.0" stroke="#5d9edb" fill="#fff" stroke-width="1.5"/>
<circle cx="230.40" cy="449.40" r="2.0" stroke="#5d9edb" fill="#fff" stroke-width="1.5"/>
<circle cx="226.20" cy="452.20" r="2.0" stroke="#5d9edb" fill="#fff" stroke-width="1.5"/>
<circle cx="215.00" cy="452.70" r="2.0" stroke="#5d9edb" fill="#fff" stroke-width="1.5"/>
<circle cx="236.00" cy="452.20" r="2.0" stroke="#5d9edb" fill="#fff" stroke-width="1.5"/>
<circle cx="218.30" cy="455.00" r="2.0" stroke="#5d9edb" fill="#fff" stroke-width="1.5"/>
<circle cx="222.00" cy="455.50" r="2.0" stroke="#5d9edb" fill="#fff" stroke-width="1.5"/>
<circle cx="225.80" cy="456.00" r="2.0" stroke="#5d9edb" fill="#fff" stroke-width="1.5"/>
<circle cx="230.00" cy="455.00" r="2.0" stroke="#5d9edb" fill="#fff" stroke-width="1.5"/>
<circle cx="233.20" cy="455.00" r="2.0" stroke="#5d9edb" fill="#fff" stroke-width="1.5"/>
<circle cx="224.40" cy="457.40" r="2.0" stroke="#5d9edb" fill="#fff" stroke-width="1.5"/>
<circle cx="214.78" cy="459.50" r="2.0" stroke="#5d9edb" fill="#fff" stroke-width="1.5"/>
<circle cx="217.93" cy="459.50" r="2.0" stroke="#5d9edb" fill="#fff" stroke-width="1.5"/>
<circle cx="221.08" cy="459.50" r="2.0" stroke="#5d9edb" fill="#fff" stroke-width="1.5"/>
<circle cx="224.23" cy="459.50" r="2.0" stroke="#5d9edb" fill="#fff" stroke-width="1.5"/>
<circle cx="227.38" cy="459.50" r="2.0" stroke="#5d9edb" fill="#fff" stroke-width="1.5"/>
<circle cx="230.53" cy="459.50" r="2.0" stroke="#5d9edb" fill="#fff" stroke-width="1.5"/>
<circle cx="233.68" cy="459.50" r="2.0" stroke="#5d9edb" fill="#fff" stroke-width="1.5"/>
<circle cx="236.83" cy="459.50" r="2.0" stroke="#5d9edb" fill="#fff" stroke-width="1.5"/>
<circle cx="216.35" cy="462.35" r="2.0" stroke="#5d9edb" fill="#fff" stroke-width="1.5"/>
<circle cx="219.50" cy="462.35" r="2.0" stroke="#5d9edb" fill="#fff" stroke-width="1.5"/>
<circle cx="222.65" cy="462.35" r="2.0" stroke="#5d9edb" fill="#fff" stroke-width="1.5"/>
<circle cx="225.80" cy="462.35" r="2.0" stroke="#5d9edb" fill="#fff" stroke-width="1.5"/>
<circle cx="228.95" cy="462.35" r="2.0" stroke="#5d9edb" fill="#fff" stroke-width="1.5"/>
<circle cx="232.10" cy="462.35" r="2.0" stroke="#5d9edb" fill="#fff" stroke-width="1.5"/>
<circle cx="235.25" cy="462.35" r="2.0" stroke="#5d9edb" fill="#fff" stroke-width="1.5"/>
<circle cx="214.78" cy="465.20" r="2.0" stroke="#5d9edb" fill="#fff" stroke-width="1.5"/>
<circle cx="217.93" cy="465.20" r="2.0" stroke="#5d9edb" fill="#fff" stroke-width="1.5"/>
<circle cx="221.08" cy="465.20" r="2.0" stroke="#5d9edb" fill="#fff" stroke-width="1.5"/>
<circle cx="224.23" cy="465.20" r="2.0" stroke="#5d9edb" fill="#fff" stroke-width="1.5"/>
<circle cx="227.38" cy="465.20" r="2.0" stroke="#5d9edb" fill="#fff" stroke-width="1.5"/>
<circle cx="230.53" cy="465.20" r="2.0" stroke="#5d9edb" fill="#fff" stroke-width="1.5"/>
<circle cx="233.68" cy="465.20" r="2.0" stroke="#5d9edb" fill="#fff" stroke-width="1.5"/>
<circle cx="236.83" cy="465.20" r="2.0" stroke="#5d9edb" fill="#fff" stroke-width="1.5"/>
<circle cx="216.35" cy="468.05" r="2.0" stroke="#5d9edb" fill="#fff" stroke-width="1.5"/>
<circle cx="219.50" cy="468.05" r="2.0" stroke="#5d9edb" fill="#fff" stroke-width="1.5"/>
<circle cx="222.65" cy="468.05" r="2.0" stroke="#5d9edb" fill="#fff" stroke-width="1.5"/>
<circle cx="225.80" cy="468.05" r="2.0" stroke="#5d9edb" fill="#fff" stroke-width="1.5"/>
<circle cx="228.95" cy="468.05" r="2.0" stroke="#5d9edb" fill="#fff" stroke-width="1.5"/>
<circle cx="232.10" cy="468.05" r="2.0" stroke="#5d9edb" fill="#fff" stroke-width="1.5"/>
<circle cx="235.25" cy="468.05" r="2.0" stroke="#5d9edb" fill="#fff" stroke-width="1.5"/>
<circle cx="214.78" cy="470.90" r="2.0" stroke="#5d9edb" fill="#fff" stroke-width="1.5"/>
<circle cx="217.93" cy="470.90" r="2.0" stroke="#5d9edb" fill="#fff" stroke-width="1.5"/>
<circle cx="221.08" cy="470.90" r="2.0" stroke="#5d9edb" fill="#fff" stroke-width="1.5"/>
<circle cx="224.23" cy="470.90" r="2.0" stroke="#5d9edb" fill="#fff" stroke-width="1.5"/>
<circle cx="227.38" cy="470.90" r="2.0" stroke="#5d9edb" fill="#fff" stroke-width="1.5"/>
<circle cx="230.53" cy="470.90" r="2.0" stroke="#5d9edb" fill="#fff" stroke-width="1.5"/>
<circle cx="233.68" cy="470.90" r="2.0" stroke="#5d9edb" fill="#fff" stroke-width="1.5"/>
<circle cx="236.83" cy="470.90" r="2.0" stroke="#5d9edb" fill="#fff" stroke-width="1.5"/>
<circle cx="216.35" cy="473.75" r="2.0" stroke="#5d9edb" fill="#fff" stroke-width="1.5"/>
<circle cx="219.50" cy="473.75" r="2.0" stroke="#5d9edb" fill="#fff" stroke-width="1.5"/>
<circle cx="222.65" cy="473.75" r="2.0" stroke="#5d9edb" fill="#fff" stroke-width="1.5"/>
<circle cx="225.80" cy="473.75" r="2.0" stroke="#5d9edb" fill="#fff" stroke-width="1.5"/>
<circle cx="228.95" cy="473.75" r="2.0" stroke="#5d9edb" fill="#fff" stroke-width="1.5"/>
<circle cx="232.10" cy="473.75" r="2.0" stroke="#5d9edb" fill="#fff" stroke-width="1.5"/>
<circle cx="235.25" cy="473.75" r="2.0" stroke="#5d9edb" fill="#fff" stroke-width="1.5"/>
<circle cx="214.78" cy="476.60" r="2.0" stroke="#5d9edb" fill="#fff" stroke-width="1.5"/>
<circle cx="217.93" cy="476.60" r="2.0" stroke="#5d9edb" fill="#fff" stroke-width="1.5"/>
<circle cx="221.08" cy="476.60" r="2.0" stroke="#5d9edb" fill="#fff" stroke-width="1.5"/>
<circle cx="224.23" cy="476.60" r="2.0" stroke="#5d9edb" fill="#fff" stroke-width="1.5"/>
<circle cx="227.38" cy="476.60" r="2.0" stroke="#5d9edb" fill="#fff" stroke-width="1.5"/>
<circle cx="230.53" cy="476.60" r="2.0" stroke="#5d9edb" fill="#fff" stroke-width="1.5"/>
<circle cx="233.68" cy="476.60" r="2.0" stroke="#5d9edb" fill="#fff" stroke-width="1.5"/>
<circle cx="236.83" cy="476.60" r="2.0" stroke="#5d9edb" fill="#fff" stroke-width="1.5"/>
<circle cx="216.35" cy="479.45" r="2.0" stroke="#5d9edb" fill="#fff" stroke-width="1.5"/>
<circle cx="219.50" cy="479.45" r="2.0" stroke="#5d9edb" fill="#fff" stroke-width="1.5"/>
<circle cx="222.65" cy="479.45" r="2.0" stroke="#5d9edb" fill="#fff" stroke-width="1.5"/>
<circle cx="225.80" cy="479.45" r="2.0" stroke="#5d9edb" fill="#fff" stroke-width="1.5"/>
<circle cx="228.95" cy="479.45" r="2.0" stroke="#5d9edb" fill="#fff" stroke-width="1.5"/>
<circle cx="232.10" cy="479.45" r="2.0" stroke="#5d9edb" fill="#fff" stroke-width="1.5"/>
<circle cx="235.25" cy="479.45" r="2.0" stroke="#5d9edb" fill="#fff" stroke-width="1.5"/>
<circle cx="214.78" cy="482.30" r="2.0" stroke="#5d9edb" fill="#fff" stroke-width="1.5"/>
<circle cx="217.93" cy="482.30" r="2.0" stroke="#5d9edb" fill="#fff" stroke-width="1.5"/>
<circle cx="221.08" cy="482.30" r="2.0" stroke="#5d9edb" fill="#fff" stroke-width="1.5"/>
<circle cx="224.23" cy="482.30" r="2.0" stroke="#5d9edb" fill="#fff" stroke-width="1.5"/>
<circle cx="227.38" cy="482.30" r="2.0" stroke="#5d9edb" fill="#fff" stroke-width="1.5"/>
<circle cx="230.53" cy="482.30" r="2.0" stroke="#5d9edb" fill="#fff" stroke-width="1.5"/>
<circle cx="233.68" cy="482.30" r="2.0" stroke="#5d9edb" fill="#fff" stroke-width="1.5"/>
<circle cx="236.83" cy="482.30" r="2.0" stroke="#5d9edb" fill="#fff" stroke-width="1.5"/>
<circle cx="216.35" cy="485.15" r="2.0" stroke="#5d9edb" fill="#fff" stroke-width="1.5"/>
<circle cx="219.50" cy="485.15" r="2.0" stroke="#5d9edb" fill="#fff" stroke-width="1.5"/>
<circle cx="222.65" cy="485.15" r="2.0" stroke="#5d9edb" fill="#fff" stroke-width="1.5"/>
<circle cx="225.80" cy="485.15" r="2.0" stroke="#5d9edb" fill="#fff" stroke-width="1.5"/>
<circle cx="228.95" cy="485.15" r="2.0" stroke="#5d9edb" fill="#fff" stroke-width="1.5"/>
<circle cx="232.10" cy="485.15" r="2.0" stroke="#5d9edb" fill="#fff" stroke-width="1.5"/>
<circle cx="235.25" cy="485.15" r="2.0" stroke="#5d9edb" fill="#fff" stroke-width="1.5"/>
<circle cx="214.78" cy="488.00" r="2.0" stroke="#5d9edb" fill="#fff" stroke-width="1.5"/>
<circle cx="217.93" cy="488.00" r="2.0" stroke="#5d9edb" fill="#fff" stroke-width="1.5"/>
<circle cx="221.08" cy="488.00" r="2.0" stroke="#5d9edb" fill="#fff" stroke-width="1.5"/>
<circle cx="224.23" cy="488.00" r="2.0" stroke="#5d9edb" fill="#fff" stroke-width="1.5"/>
<circle cx="227.38" cy="488.00" r="2.0" stroke="#5d9edb" fill="#fff" stroke-width="1.5"/>
<circle cx="230.53" cy="488.00" r="2.0" stroke="#5d9edb" fill="#fff" stroke-width="1.5"/>
<circle cx="233.68" cy="488.00" r="2.0" stroke="#5d9edb" fill="#fff" stroke-width="1.5"/>
<circle cx="236.83" cy="488.00" r="2.0" stroke="#5d9edb" fill="#fff" stroke-width="1.5"/>
<circle cx="216.35" cy="490.85" r="2.0" stroke="#5d9edb" fill="#fff" stroke-width="1.5"/>
<circle cx="219.50" cy="490.85" r="2.0" stroke="#5d9edb" fill="#fff" stroke-width="1.5"/>
<circle cx="222.65" cy="490.85" r="2.0" stroke="#5d9edb" fill="#fff" stroke-width="1.5"/>
<circle cx="225.80" cy="490.85" r="2.0" stroke="#5d9edb" fill="#fff" stroke-width="1.5"/>
<circle cx="228.95" cy="490.85" r="2.0" stroke="#5d9edb" fill="#fff" stroke-width="1.5"/>
<circle cx="232.10" cy="490.85" r="2.0" stroke="#5d9edb" fill="#fff" stroke-width="1.5"/>
<circle cx="235.25" cy="490.85" r="2.0" stroke="#5d9edb" fill="#fff" stroke-width="1.5"/>
<circle cx="214.78" cy="493.70" r="2.0" stroke="#5d9edb" fill="#fff" stroke-width="1.5"/>
<circle cx="217.93" cy="493.70" r="2.0" stroke="#5d9edb" fill="#fff" stroke-width="1.5"/>
<circle cx="221.08" cy="493.70" r="2.0" stroke="#5d9edb" fill="#fff" stroke-width="1.5"/>
<circle cx="224.23" cy="493.70" r="2.0" stroke="#5d9edb" fill="#fff" stroke-width="1.5"/>
<circle cx="227.38" cy="493.70" r="2.0" stroke="#5d9edb" fill="#fff" stroke-width="1.5"/>
<circle cx="230.53" cy="493.70" r="2.0" stroke="#5d9edb" fill="#fff" stroke-width="1.5"/>
<circle cx="233.68" cy="493.70" r="2.0" stroke="#5d9edb" fill="#fff" stroke-width="1.5"/>
<circle cx="236.83" cy="493.70" r="2.0" stroke="#5d9edb" fill="#fff" stroke-width="1.5"/>
<circle cx="216.35" cy="496.55" r="2.0" stroke="#5d9edb" fill="#fff" stroke-width="1.5"/>
<circle cx="219.50" cy="496.55" r="2.0" stroke="#5d9edb" fill="#fff" stroke-width="1.5"/>
<circle cx="222.65" cy="496.55" r="2.0" stroke="#5d9edb" fill="#fff" stroke-width="1.5"/>
<circle cx="225.80" cy="496.55" r="2.0" stroke="#5d9edb" fill="#fff" stroke-width="1.5"/>
<circle cx="228.95" cy="496.55" r="2.0" stroke="#5d9edb" fill="#fff" stroke-width="1.5"/>
<circle cx="232.10" cy="496.55" r="2.0" stroke="#5d9edb" fill="#fff" stroke-width="1.5"/>
<circle cx="235.25" cy="496.55" r="2.0" stroke="#5d9edb" fill="#fff" stroke-width="1.5"/>
<circle cx="214.78" cy="499.40" r="2.0" stroke="#5d9edb" fill="#fff" stroke-width="1.5"/>
<circle cx="217.93" cy="499.40" r="2.0" stroke="#5d9edb" fill="#fff" stroke-width="1.5"/>
<circle cx="221.08" cy="499.40" r="2.0" stroke="#5d9edb" fill="#fff" stroke-width="1.5"/>
<circle cx="224.23" cy="499.40" r="2.0" stroke="#5d9edb" fill="#fff" stroke-width="1.5"/>
<circle cx="227.38" cy="499.40" r="2.0" stroke="#5d9edb" fill="#fff" stroke-width="1.5"/>
<circle cx="230.53" cy="499.40" r="2.0" stroke="#5d9edb" fill="#fff" stroke-width="1.5"/>
<circle cx="233.68" cy="499.40" r="2.0" stroke="#5d9edb" fill="#fff" stroke-width="1.5"/>
<circle cx="236.83" cy="499.40" r="2.0" stroke="#5d9edb" fill="#fff" stroke-width="1.5"/>
<circle cx="216.35" cy="502.25" r="2.0" stroke="#5d9edb" fill="#fff" stroke-width="1.5"/>
<circle cx="219.50" cy="502.25" r="2.0" stroke="#5d9edb" fill="#fff" stroke-width="1.5"/>
<circle cx="222.65" cy="502.25" r="2.0" stroke="#5d9edb" fill="#fff" stroke-width="1.5"/>
<circle cx="225.80" cy="502.25" r="2.0" stroke="#5d9edb" fill="#fff" stroke-width="1.5"/>
<circle cx="228.95" cy="502.25" r="2.0" stroke="#5d9edb" fill="#fff" stroke-width="1.5"/>
<circle cx="232.10" cy="502.25" r="2.0" stroke="#5d9edb" fill="#fff" stroke-width="1.5"/>
<circle cx="235.25" cy="502.25" r="2.0" stroke="#5d9edb" fill="#fff" stroke-width="1.5"/>
<circle cx="221.08" cy="505.10" r="2.0" stroke="#5d9edb" fill="#fff" stroke-width="1.5"/>
<circle cx="224.23" cy="505.10" r="2.0" stroke="#5d9edb" fill="#fff" stroke-width="1.5"/>
<circle cx="227.38" cy="505.10" r="2.0" stroke="#5d9edb" fill="#fff" stroke-width="1.5"/>
<circle cx="230.53" cy="505.10" r="2.0" stroke="#5d9edb" fill="#fff" stroke-width="1.5"/>
<circle cx="225.80" cy="509.50" r="2.0" stroke="#5d9edb" fill="#fff" stroke-width="1.5"/>
<circle cx="224.00" cy="510.20" r="2.0" stroke="#5d9edb" fill="#fff" stroke-width="1.5"/>
<circle cx="227.60" cy="510.20" r="2.0" stroke="#5d9edb" fill="#fff" stroke-width="1.5"/>
<line x1="189.50" y1="433.30" x2="189.50" y2="426.80" stroke="#e06060" stroke-width="1.0" stroke-linecap="butt"/>
<line x1="186.70" y1="426.80" x2="192.30" y2="426.80" stroke="#e06060" stroke-width="1.0" stroke-linecap="butt"/>
<line x1="189.49" y1="433.30" x2="189.51" y2="433.30" stroke="#e06060" stroke-width="1.0" stroke-linecap="butt"/>
<line x1="172.30" y1="397.90" x2="172.30" y2="418.60" stroke="#1a1a1a" stroke-width="1.4" stroke-linecap="butt"/>
<line x1="169.60" y1="418.60" x2="175.00" y2="418.60" stroke="#1a1a1a" stroke-width="1.3" stroke-linecap="butt"/>
<line x1="172.30" y1="425.70" x2="172.30" y2="508.20" stroke="#1a1a1a" stroke-width="1.4" stroke-linecap="butt"/>
<line x1="169.60" y1="425.70" x2="175.00" y2="425.70" stroke="#1a1a1a" stroke-width="1.3" stroke-linecap="butt"/>
<line x1="171.60" y1="507.50" x2="244.80" y2="507.50" stroke="#1a1a1a" stroke-width="1.4" stroke-linecap="butt"/>
<line x1="172.30" y1="398.60" x2="172.30" y2="398.60" stroke="#1a1a1a" stroke-width="1.3" stroke-linecap="butt"/>
<text x="167.40" y="402.70" font-size="10" text-anchor="end" fill="#1a1a1a" stroke="#1a1a1a" stroke-width="0.2">200</text>
<line x1="172.30" y1="418.60" x2="172.30" y2="418.60" stroke="#1a1a1a" stroke-width="1.3" stroke-linecap="butt"/>
<text x="167.40" y="422.70" font-size="10" text-anchor="end" fill="#1a1a1a" stroke="#1a1a1a" stroke-width="0.2">80</text>
<line x1="169.30" y1="398.60" x2="172.30" y2="398.60" stroke="#1a1a1a" stroke-width="1.3" stroke-linecap="butt"/>
<line x1="169.30" y1="507.50" x2="172.30" y2="507.50" stroke="#1a1a1a" stroke-width="1.3" stroke-linecap="butt"/>
<text x="167.40" y="511.60" font-size="10" text-anchor="end" fill="#1a1a1a" stroke="#1a1a1a" stroke-width="0.2">0</text>
<line x1="169.30" y1="487.05" x2="172.30" y2="487.05" stroke="#1a1a1a" stroke-width="1.3" stroke-linecap="butt"/>
<text x="167.40" y="491.15" font-size="10" text-anchor="end" fill="#1a1a1a" stroke="#1a1a1a" stroke-width="0.2">20</text>
<line x1="169.30" y1="466.60" x2="172.30" y2="466.60" stroke="#1a1a1a" stroke-width="1.3" stroke-linecap="butt"/>
<text x="167.40" y="470.70" font-size="10" text-anchor="end" fill="#1a1a1a" stroke="#1a1a1a" stroke-width="0.2">40</text>
<line x1="169.30" y1="446.15" x2="172.30" y2="446.15" stroke="#1a1a1a" stroke-width="1.3" stroke-linecap="butt"/>
<text x="167.40" y="450.25" font-size="10" text-anchor="end" fill="#1a1a1a" stroke="#1a1a1a" stroke-width="0.2">60</text>
<line x1="172.30" y1="425.70" x2="172.30" y2="425.70" stroke="#1a1a1a" stroke-width="1.3" stroke-linecap="butt"/>
<text x="167.40" y="429.80" font-size="10" text-anchor="end" fill="#1a1a1a" stroke="#1a1a1a" stroke-width="0.2">80</text>
<line x1="189.40" y1="507.50" x2="189.40" y2="510.50" stroke="#1a1a1a" stroke-width="1.3" stroke-linecap="butt"/>
<line x1="226.60" y1="507.50" x2="226.60" y2="510.50" stroke="#1a1a1a" stroke-width="1.3" stroke-linecap="butt"/>
<text x="189.50" y="519.20" font-size="10" text-anchor="middle" fill="#1a1a1a" stroke="#1a1a1a" stroke-width="0.2" textLength="12.1" lengthAdjust="spacingAndGlyphs">PT</text>
<text x="226.60" y="519.20" font-size="10" text-anchor="middle" fill="#1a1a1a" stroke="#1a1a1a" stroke-width="0.2" textLength="8.7" lengthAdjust="spacingAndGlyphs">IT</text>
<text x="189.00" y="529.60" font-size="8.1" text-anchor="middle" fill="#222" stroke="#222" stroke-width="0.12">(<tspan font-style="italic">n</tspan> = 50)</text>
<text x="225.80" y="529.60" font-size="8.1" text-anchor="middle" fill="#222" stroke="#222" stroke-width="0.12" textLength="29.5" lengthAdjust="spacingAndGlyphs">(<tspan font-style="italic">n</tspan> = 373)</text>
<text x="140.60" y="453.30" font-size="10.3" text-anchor="middle" fill="#1a1a1a" stroke="#1a1a1a" stroke-width="0.2" transform="rotate(-90 140.60 453.30)" textLength="78.9" lengthAdjust="spacingAndGlyphs">CD160 Gene (%)</text>
<line x1="189.30" y1="391.60" x2="225.40" y2="391.60" stroke="#1a1a1a" stroke-width="1.4" stroke-linecap="butt"/>
<text x="207.30" y="392.00" font-size="15.2" text-anchor="middle" fill="#1a1a1a" stroke="#1a1a1a" stroke-width="0.2">****</text>
<rect x="17.30" y="74.00" width="90.70" height="67.00" fill="#fafafa"/>
<line x1="22.00" y1="74.00" x2="22.00" y2="142.20" stroke="#d2d2d2" stroke-width="0.8" stroke-linecap="butt"/>
<line x1="26.90" y1="74.00" x2="26.90" y2="142.20" stroke="#d2d2d2" stroke-width="0.8" stroke-linecap="butt"/>
<line x1="30.00" y1="74.00" x2="30.00" y2="142.20" stroke="#d2d2d2" stroke-width="0.8" stroke-linecap="butt"/>
<line x1="40.00" y1="74.00" x2="40.00" y2="142.20" stroke="#d2d2d2" stroke-width="0.8" stroke-linecap="butt"/>
<line x1="44.20" y1="74.00" x2="44.20" y2="142.20" stroke="#d2d2d2" stroke-width="0.8" stroke-linecap="butt"/>
<line x1="48.00" y1="74.00" x2="48.00" y2="142.20" stroke="#d2d2d2" stroke-width="0.8" stroke-linecap="butt"/>
<line x1="51.60" y1="74.00" x2="51.60" y2="142.20" stroke="#d2d2d2" stroke-width="0.8" stroke-linecap="butt"/>
<line x1="60.00" y1="74.00" x2="60.00" y2="142.20" stroke="#d2d2d2" stroke-width="0.8" stroke-linecap="butt"/>
<line x1="62.50" y1="74.00" x2="62.50" y2="142.20" stroke="#d2d2d2" stroke-width="0.8" stroke-linecap="butt"/>
<line x1="65.00" y1="74.00" x2="65.00" y2="142.20" stroke="#d2d2d2" stroke-width="0.8" stroke-linecap="butt"/>
<line x1="67.50" y1="74.00" x2="67.50" y2="142.20" stroke="#d2d2d2" stroke-width="0.8" stroke-linecap="butt"/>
<line x1="70.00" y1="74.00" x2="70.00" y2="142.20" stroke="#d2d2d2" stroke-width="0.8" stroke-linecap="butt"/>
<line x1="73.00" y1="74.00" x2="73.00" y2="142.20" stroke="#d2d2d2" stroke-width="0.8" stroke-linecap="butt"/>
<line x1="80.00" y1="74.00" x2="80.00" y2="142.20" stroke="#d2d2d2" stroke-width="0.8" stroke-linecap="butt"/>
<line x1="83.50" y1="74.00" x2="83.50" y2="142.20" stroke="#d2d2d2" stroke-width="0.8" stroke-linecap="butt"/>
<line x1="87.00" y1="74.00" x2="87.00" y2="142.20" stroke="#d2d2d2" stroke-width="0.8" stroke-linecap="butt"/>
<line x1="90.00" y1="74.00" x2="90.00" y2="142.20" stroke="#d2d2d2" stroke-width="0.8" stroke-linecap="butt"/>
<line x1="93.00" y1="74.00" x2="93.00" y2="142.20" stroke="#d2d2d2" stroke-width="0.8" stroke-linecap="butt"/>
<line x1="95.50" y1="74.00" x2="95.50" y2="142.20" stroke="#d2d2d2" stroke-width="0.8" stroke-linecap="butt"/>
<line x1="101.00" y1="74.00" x2="101.00" y2="142.20" stroke="#d2d2d2" stroke-width="0.8" stroke-linecap="butt"/>
<line x1="103.00" y1="74.00" x2="103.00" y2="142.20" stroke="#d2d2d2" stroke-width="0.8" stroke-linecap="butt"/>
<line x1="105.00" y1="74.00" x2="105.00" y2="142.20" stroke="#d2d2d2" stroke-width="0.8" stroke-linecap="butt"/>
<line x1="19.00" y1="74.00" x2="19.00" y2="143.00" stroke="#8a8a8a" stroke-width="0.9" stroke-linecap="butt"/>
<line x1="34.70" y1="74.00" x2="34.70" y2="143.00" stroke="#8a8a8a" stroke-width="0.9" stroke-linecap="butt"/>
<line x1="76.50" y1="74.00" x2="76.50" y2="143.00" stroke="#8a8a8a" stroke-width="0.9" stroke-linecap="butt"/>
<line x1="98.00" y1="74.00" x2="98.00" y2="143.00" stroke="#8a8a8a" stroke-width="0.9" stroke-linecap="butt"/>
<line x1="17.30" y1="74.00" x2="17.30" y2="141.00" stroke="#a8a8a8" stroke-width="0.9" stroke-linecap="butt"/>
<line x1="108.00" y1="74.00" x2="108.00" y2="141.00" stroke="#a8a8a8" stroke-width="0.9" stroke-linecap="butt"/>
<path d="M42.00,74.00 L42.00,74.00 L42.32,73.62 L42.79,73.12 L43.31,72.31 L43.80,71.00 L44.26,69.02 L44.72,66.50 L45.17,63.73 L45.60,61.00 L46.00,58.30 L46.37,55.50 L46.73,52.70 L47.10,50.00 L47.48,47.43 L47.86,44.94 L48.23,42.48 L48.60,40.00 L48.95,37.50 L49.30,35.00 L49.65,32.50 L50.00,30.00 L50.36,27.50 L50.71,25.00 L51.09,22.50 L51.50,20.00 L51.97,17.43 L52.48,14.81 L53.00,12.29 L53.50,10.00 L53.98,7.71 L54.45,5.44 L54.92,3.70 L55.40,3.00 L55.90,3.73 L56.42,5.53 L56.93,7.82 L57.40,10.00 L57.83,12.00 L58.22,14.09 L58.61,16.27 L59.00,18.50 L59.40,20.75 L59.81,23.03 L60.21,25.43 L60.60,28.00 L60.97,30.85 L61.32,33.91 L61.66,37.01 L62.00,40.00 L62.33,42.87 L62.66,45.69 L62.98,48.41 L63.30,51.00 L63.60,53.41 L63.90,55.69 L64.20,57.87 L64.50,60.00 L64.82,62.15 L65.14,64.28 L65.47,66.27 L65.80,68.00 L66.13,69.44 L66.47,70.66 L66.82,71.67 L67.20,72.50 L67.66,73.12 L68.19,73.53 L68.67,73.80 L69.00,74.00 L69.00,74.00 Z" fill="#98c6f0" stroke="none" stroke-width="1"/>
<path d="M39.00,96.30 L39.00,96.30 L39.90,96.14 L41.19,95.92 L42.63,95.61 L44.00,95.20 L45.25,94.66 L46.50,94.00 L47.75,93.27 L49.00,92.50 L50.26,91.67 L51.53,90.77 L52.79,89.86 L54.00,89.00 L55.18,88.24 L56.34,87.53 L57.46,86.81 L58.50,86.00 L59.47,85.12 L60.38,84.19 L61.22,83.16 L62.00,82.00 L62.71,80.73 L63.36,79.38 L63.95,77.83 L64.50,76.00 L64.99,73.88 L65.42,71.50 L65.81,68.88 L66.20,66.00 L66.57,62.78 L66.92,59.25 L67.26,55.59 L67.60,52.00 L67.94,48.48 L68.27,44.94 L68.62,41.43 L69.00,38.00 L69.43,34.53 L69.89,31.03 L70.36,27.77 L70.80,25.00 L71.21,22.78 L71.61,20.99 L71.97,19.57 L72.30,18.50 L72.56,17.83 L72.76,17.55 L72.96,17.55 L73.20,17.70 L73.49,17.92 L73.81,18.30 L74.15,18.95 L74.50,20.00 L74.86,21.39 L75.24,23.08 L75.62,25.23 L76.00,28.00 L76.38,31.55 L76.76,35.75 L77.14,40.33 L77.50,45.00 L77.84,49.86 L78.17,55.00 L78.49,60.14 L78.80,65.00 L79.10,69.65 L79.39,74.19 L79.68,78.38 L80.00,82.00 L80.34,84.93 L80.70,87.31 L81.08,89.29 L81.50,91.00 L81.93,92.41 L82.38,93.48 L82.88,94.31 L83.50,95.00 L84.35,95.55 L85.38,95.90 L86.34,96.13 L87.00,96.30 L87.00,96.30 Z" fill="#f6b870" stroke="none" stroke-width="1" opacity="0.9"/>
<path d="M43.00,118.60 L43.00,118.60 L43.88,118.40 L45.12,118.11 L46.56,117.79 L48.00,117.50 L49.50,117.25 L51.12,117.03 L52.69,116.78 L54.00,116.50 L54.97,116.24 L55.72,116.00 L56.36,115.63 L57.00,115.00 L57.67,114.04 L58.31,112.84 L58.92,111.47 L59.50,110.00 L60.04,108.44 L60.53,106.75 L61.01,104.94 L61.50,103.00 L62.00,100.94 L62.51,98.75 L63.01,96.44 L63.50,94.00 L63.97,91.44 L64.43,88.75 L64.88,85.94 L65.30,83.00 L65.70,79.94 L66.07,76.75 L66.43,73.44 L66.80,70.00 L67.17,66.32 L67.55,62.44 L67.92,58.59 L68.30,55.00 L68.67,51.65 L69.05,48.44 L69.42,45.51 L69.80,43.00 L70.18,40.97 L70.57,39.34 L70.95,38.04 L71.30,37.00 L71.60,36.24 L71.87,35.78 L72.13,35.58 L72.40,35.60 L72.69,35.80 L72.98,36.21 L73.28,36.92 L73.60,38.00 L73.93,39.42 L74.28,41.15 L74.64,43.31 L75.00,46.00 L75.38,49.39 L75.77,53.38 L76.15,57.67 L76.50,62.00 L76.80,66.41 L77.08,71.00 L77.33,75.59 L77.60,80.00 L77.88,84.26 L78.15,88.44 L78.42,92.40 L78.70,96.00 L78.97,99.20 L79.24,102.06 L79.52,104.65 L79.80,107.00 L80.09,109.11 L80.38,110.97 L80.68,112.59 L81.00,114.00 L81.33,115.18 L81.67,116.12 L82.05,116.88 L82.50,117.50 L83.11,117.97 L83.84,118.27 L84.53,118.46 L85.00,118.60 L85.00,118.60 Z" fill="#ee4a3c" stroke="none" stroke-width="1" opacity="0.62"/>
<path d="M30.50,141.00 L30.50,141.00 L30.83,140.47 L31.32,139.75 L31.82,138.66 L32.20,137.00 L32.41,134.63 L32.53,131.69 L32.61,128.40 L32.70,125.00 L32.81,121.46 L32.91,117.69 L33.00,113.82 L33.10,110.00 L33.20,106.20 L33.29,102.38 L33.39,98.61 L33.50,95.00 L33.61,91.59 L33.73,88.31 L33.88,85.13 L34.10,82.00 L34.40,78.88 L34.76,75.81 L35.16,72.84 L35.60,70.00 L36.09,67.25 L36.64,64.58 L37.19,62.12 L37.70,60.00 L38.17,58.07 L38.61,56.33 L39.03,55.12 L39.40,54.80 L39.73,55.62 L40.01,57.32 L40.27,59.57 L40.50,62.00 L40.71,64.66 L40.89,67.70 L41.05,70.89 L41.20,74.00 L41.34,76.95 L41.46,79.88 L41.57,82.86 L41.70,86.00 L41.84,89.34 L41.99,92.81 L42.14,96.38 L42.30,100.00 L42.46,103.80 L42.63,107.75 L42.81,111.58 L43.00,115.00 L43.19,117.92 L43.39,120.50 L43.62,122.83 L43.90,125.00 L44.22,127.01 L44.57,128.81 L44.99,130.46 L45.50,132.00 L46.14,133.44 L46.88,134.75 L47.68,135.94 L48.50,137.00 L49.35,137.94 L50.25,138.75 L51.15,139.44 L52.00,140.00 L52.86,140.41 L53.72,140.69 L54.47,140.87 L55.00,141.00 L55.00,141.00 Z" fill="#808080" stroke="none" stroke-width="1" opacity="0.85"/>
<path d="M33.00,141.00 L33.00,140.95 L33.12,140.90 L33.23,140.82 L33.35,140.69 L33.47,140.48 L33.58,140.15 L33.70,139.66 L33.82,138.94 L33.93,137.93 L34.05,136.55 L34.17,134.73 L34.28,132.39 L34.40,129.50 L34.52,126.01 L34.63,121.95 L34.75,117.36 L34.87,112.33 L34.98,106.99 L35.10,101.51 L35.22,96.07 L35.33,90.85 L35.45,86.03 L35.57,81.77 L35.68,78.19 L35.80,75.35 L35.92,73.27 L36.03,71.93 L36.15,71.22 L36.27,71.01 L36.38,71.04 L36.50,71.39 L36.62,72.21 L36.73,73.62 L36.85,75.69 L36.97,78.42 L37.08,81.81 L37.20,85.79 L37.32,90.26 L37.43,95.11 L37.55,100.19 L37.67,105.33 L37.78,110.40 L37.90,115.25 L38.02,119.76 L38.13,123.83 L38.25,127.42 L38.37,130.49 L38.48,133.05 L38.60,135.12 L38.72,136.76 L38.83,138.01 L38.95,138.95 L39.07,139.63 L39.18,140.11 L39.30,140.43 L39.42,140.65 L39.53,140.79 L39.65,140.88 L39.77,140.93 L39.88,140.96 L40.00,140.98 L40.00,141.00 Z" fill="#333" stroke="none" stroke-width="1" opacity="0.45"/>
<line x1="17.30" y1="74.00" x2="111.00" y2="74.00" stroke="#a9b7c4" stroke-width="1.0" stroke-linecap="butt"/>
<line x1="17.30" y1="96.30" x2="111.00" y2="96.30" stroke="#efcfae" stroke-width="0.9" stroke-linecap="butt"/>
<line x1="17.30" y1="118.60" x2="111.00" y2="118.60" stroke="#e9a3a3" stroke-width="0.9" stroke-linecap="butt"/>
<line x1="17.30" y1="141.00" x2="111.00" y2="141.00" stroke="#666" stroke-width="1.0" stroke-linecap="butt"/>
<line x1="55.60" y1="2.00" x2="55.60" y2="141.00" stroke="#1d2a38" stroke-width="1.6" stroke-linecap="butt" stroke-dasharray="5 2.2 1.2 2.2"/>
<text x="20.60" y="154.50" font-size="7" text-anchor="middle" fill="#222" stroke="#222" stroke-width="0.2">-10<tspan dy="-2.6" font-size="5">3</tspan><tspan dy="2.6"></tspan></text>
<text x="35.00" y="154.50" font-size="7" text-anchor="middle" fill="#222" stroke="#222" stroke-width="0.2">0</text>
<text x="56.40" y="154.50" font-size="7" text-anchor="middle" fill="#222" stroke="#222" stroke-width="0.2">10<tspan dy="-2.6" font-size="5">3</tspan><tspan dy="2.6"></tspan></text>
<text x="80.60" y="154.50" font-size="7" text-anchor="middle" fill="#222" stroke="#222" stroke-width="0.2">10<tspan dy="-2.6" font-size="5">4</tspan><tspan dy="2.6"></tspan></text>
<text x="102.00" y="154.50" font-size="7" text-anchor="middle" fill="#222" stroke="#222" stroke-width="0.2">10<tspan dy="-2.6" font-size="5">5</tspan><tspan dy="2.6"></tspan></text>
<rect x="111.80" y="74.00" width="98.60" height="67.00" fill="#fafafa"/>
<line x1="116.91" y1="74.00" x2="116.91" y2="142.20" stroke="#d2d2d2" stroke-width="0.8" stroke-linecap="butt"/>
<line x1="122.24" y1="74.00" x2="122.24" y2="142.20" stroke="#d2d2d2" stroke-width="0.8" stroke-linecap="butt"/>
<line x1="125.60" y1="74.00" x2="125.60" y2="142.20" stroke="#d2d2d2" stroke-width="0.8" stroke-linecap="butt"/>
<line x1="136.47" y1="74.00" x2="136.47" y2="142.20" stroke="#d2d2d2" stroke-width="0.8" stroke-linecap="butt"/>
<line x1="141.04" y1="74.00" x2="141.04" y2="142.20" stroke="#d2d2d2" stroke-width="0.8" stroke-linecap="butt"/>
<line x1="145.17" y1="74.00" x2="145.17" y2="142.20" stroke="#d2d2d2" stroke-width="0.8" stroke-linecap="butt"/>
<line x1="149.08" y1="74.00" x2="149.08" y2="142.20" stroke="#d2d2d2" stroke-width="0.8" stroke-linecap="butt"/>
<line x1="158.21" y1="74.00" x2="158.21" y2="142.20" stroke="#d2d2d2" stroke-width="0.8" stroke-linecap="butt"/>
<line x1="160.93" y1="74.00" x2="160.93" y2="142.20" stroke="#d2d2d2" stroke-width="0.8" stroke-linecap="butt"/>
<line x1="163.65" y1="74.00" x2="163.65" y2="142.20" stroke="#d2d2d2" stroke-width="0.8" stroke-linecap="butt"/>
<line x1="166.37" y1="74.00" x2="166.37" y2="142.20" stroke="#d2d2d2" stroke-width="0.8" stroke-linecap="butt"/>
<line x1="169.08" y1="74.00" x2="169.08" y2="142.20" stroke="#d2d2d2" stroke-width="0.8" stroke-linecap="butt"/>
<line x1="172.35" y1="74.00" x2="172.35" y2="142.20" stroke="#d2d2d2" stroke-width="0.8" stroke-linecap="butt"/>
<line x1="179.95" y1="74.00" x2="179.95" y2="142.20" stroke="#d2d2d2" stroke-width="0.8" stroke-linecap="butt"/>
<line x1="183.76" y1="74.00" x2="183.76" y2="142.20" stroke="#d2d2d2" stroke-width="0.8" stroke-linecap="butt"/>
<line x1="187.56" y1="74.00" x2="187.56" y2="142.20" stroke="#d2d2d2" stroke-width="0.8" stroke-linecap="butt"/>
<line x1="190.82" y1="74.00" x2="190.82" y2="142.20" stroke="#d2d2d2" stroke-width="0.8" stroke-linecap="butt"/>
<line x1="194.09" y1="74.00" x2="194.09" y2="142.20" stroke="#d2d2d2" stroke-width="0.8" stroke-linecap="butt"/>
<line x1="196.80" y1="74.00" x2="196.80" y2="142.20" stroke="#d2d2d2" stroke-width="0.8" stroke-linecap="butt"/>
<line x1="202.78" y1="74.00" x2="202.78" y2="142.20" stroke="#d2d2d2" stroke-width="0.8" stroke-linecap="butt"/>
<line x1="204.96" y1="74.00" x2="204.96" y2="142.20" stroke="#d2d2d2" stroke-width="0.8" stroke-linecap="butt"/>
<line x1="207.13" y1="74.00" x2="207.13" y2="142.20" stroke="#d2d2d2" stroke-width="0.8" stroke-linecap="butt"/>
<line x1="115.80" y1="74.00" x2="115.80" y2="143.00" stroke="#8a8a8a" stroke-width="0.9" stroke-linecap="butt"/>
<line x1="130.70" y1="74.00" x2="130.70" y2="143.00" stroke="#8a8a8a" stroke-width="0.9" stroke-linecap="butt"/>
<line x1="177.40" y1="74.00" x2="177.40" y2="143.00" stroke="#8a8a8a" stroke-width="0.9" stroke-linecap="butt"/>
<line x1="200.90" y1="74.00" x2="200.90" y2="143.00" stroke="#8a8a8a" stroke-width="0.9" stroke-linecap="butt"/>
<line x1="111.80" y1="74.00" x2="111.80" y2="141.00" stroke="#a8a8a8" stroke-width="0.9" stroke-linecap="butt"/>
<line x1="210.40" y1="74.00" x2="210.40" y2="141.00" stroke="#a8a8a8" stroke-width="0.9" stroke-linecap="butt"/>
<path d="M146.00,74.00 L146.00,74.00 L146.45,72.75 L147.09,71.00 L147.82,68.75 L148.50,66.00 L149.12,62.61 L149.75,58.62 L150.38,54.33 L151.00,50.00 L151.62,45.57 L152.25,40.94 L152.88,36.34 L153.50,32.00 L154.14,27.80 L154.78,23.69 L155.41,19.98 L156.00,17.00 L156.54,14.81 L157.03,13.25 L157.51,12.31 L158.00,12.00 L158.50,12.50 L159.00,13.75 L159.50,15.38 L160.00,17.00 L160.50,18.75 L161.00,20.75 L161.50,22.62 L162.00,24.00 L162.50,24.58 L163.00,24.62 L163.50,24.61 L164.00,25.00 L164.50,25.95 L165.00,27.19 L165.50,28.59 L166.00,30.00 L166.50,31.43 L167.00,32.94 L167.50,34.48 L168.00,36.00 L168.50,37.57 L169.00,39.19 L169.50,40.71 L170.00,42.00 L170.50,43.04 L171.00,43.91 L171.50,44.57 L172.00,45.00 L172.49,45.16 L172.97,45.06 L173.46,44.81 L174.00,44.50 L174.61,44.02 L175.28,43.38 L175.93,42.79 L176.50,42.50 L176.93,42.48 L177.28,42.62 L177.61,43.09 L178.00,44.00 L178.46,45.52 L178.97,47.53 L179.49,49.78 L180.00,52.00 L180.50,54.27 L181.00,56.69 L181.50,59.01 L182.00,61.00 L182.45,62.60 L182.88,63.94 L183.36,65.05 L184.00,66.00 L184.86,66.80 L185.88,67.44 L186.95,67.85 L188.00,68.00 L189.02,67.69 L190.06,67.00 L191.07,66.31 L192.00,66.00 L192.77,66.20 L193.44,66.69 L194.13,67.34 L195.00,68.00 L196.11,68.70 L197.38,69.50 L198.70,70.30 L200.00,71.00 L201.25,71.59 L202.50,72.12 L203.75,72.59 L205.00,73.00 L206.37,73.34 L207.81,73.62 L209.10,73.84 L210.00,74.00 L210.00,74.00 Z" fill="#98c6f0" stroke="none" stroke-width="1"/>
<path d="M146.00,96.30 L146.00,96.30 L146.37,95.04 L146.91,93.27 L147.49,90.95 L148.00,88.00 L148.41,84.28 L148.79,79.86 L149.15,75.01 L149.50,70.00 L149.83,64.61 L150.14,58.78 L150.45,53.07 L150.80,48.00 L151.18,43.52 L151.58,39.41 L152.01,35.96 L152.50,33.50 L153.08,32.31 L153.73,32.16 L154.39,32.55 L155.00,33.00 L155.51,33.39 L155.97,33.97 L156.44,34.82 L157.00,36.00 L157.70,37.77 L158.50,40.00 L159.30,42.23 L160.00,44.00 L160.56,45.24 L161.03,46.19 L161.49,46.79 L162.00,47.00 L162.61,46.48 L163.28,45.38 L163.93,44.33 L164.50,44.00 L164.91,44.59 L165.22,45.75 L165.54,47.28 L166.00,49.00 L166.64,51.04 L167.41,53.44 L168.21,55.87 L169.00,58.00 L169.73,59.80 L170.44,61.44 L171.18,62.85 L172.00,64.00 L172.98,64.80 L174.06,65.31 L175.12,65.66 L176.00,66.00 L176.66,66.23 L177.19,66.31 L177.62,66.49 L178.00,67.00 L178.27,67.99 L178.44,69.31 L178.63,70.73 L179.00,72.00 L179.59,73.12 L180.31,74.19 L181.13,75.16 L182.00,76.00 L182.93,76.57 L183.94,76.94 L184.98,77.34 L186.00,78.00 L187.00,79.04 L188.00,80.31 L189.00,81.68 L190.00,83.00 L191.00,84.30 L192.00,85.62 L193.00,86.89 L194.00,88.00 L194.98,88.89 L195.94,89.62 L196.93,90.30 L198.00,91.00 L199.18,91.77 L200.44,92.56 L201.73,93.32 L203.00,94.00 L204.32,94.61 L205.69,95.17 L206.96,95.64 L208.00,96.00 L208.76,96.20 L209.31,96.28 L209.71,96.29 L210.00,96.30 L210.00,96.30 Z" fill="#f6b870" stroke="none" stroke-width="1" opacity="0.72"/>
<path d="M144.00,118.60 L144.00,118.60 L144.47,118.39 L145.16,118.11 L145.89,117.68 L146.50,117.00 L146.96,116.27 L147.34,115.46 L147.68,114.17 L148.00,112.00 L148.29,109.02 L148.54,105.38 L148.78,100.80 L149.00,95.00 L149.21,87.21 L149.41,77.81 L149.60,68.26 L149.80,60.00 L150.00,53.19 L150.19,47.12 L150.39,42.00 L150.60,38.00 L150.81,35.34 L151.03,33.88 L151.26,33.22 L151.50,33.00 L151.76,33.04 L152.04,33.56 L152.33,34.80 L152.60,37.00 L152.85,40.35 L153.09,44.69 L153.34,49.68 L153.60,55.00 L153.89,60.92 L154.19,67.50 L154.50,74.08 L154.80,80.00 L155.08,85.23 L155.35,90.06 L155.64,94.37 L156.00,98.00 L156.43,100.80 L156.92,102.88 L157.45,104.52 L158.00,106.00 L158.58,107.27 L159.19,108.22 L159.83,109.06 L160.50,110.00 L161.23,111.12 L162.00,112.31 L162.77,113.47 L163.50,114.50 L164.17,115.40 L164.81,116.21 L165.42,116.92 L166.00,117.50 L166.58,117.93 L167.16,118.24 L167.65,118.45 L168.00,118.60 L168.00,118.60 Z" fill="#ee4a3c" stroke="none" stroke-width="1" opacity="0.65"/>
<path d="M123.00,141.00 L123.00,141.00 L123.47,140.69 L124.14,140.25 L124.87,139.69 L125.50,139.00 L125.99,138.21 L126.43,137.31 L126.82,136.26 L127.20,135.00 L127.56,133.53 L127.88,131.88 L128.19,130.03 L128.50,128.00 L128.81,125.99 L129.12,123.94 L129.42,121.41 L129.70,118.00 L129.95,113.34 L130.18,107.75 L130.41,101.78 L130.70,96.00 L131.05,90.43 L131.44,84.81 L131.86,79.29 L132.30,74.00 L132.77,68.88 L133.28,63.88 L133.80,59.19 L134.30,55.00 L134.79,50.92 L135.28,47.01 L135.75,44.06 L136.20,42.90 L136.62,44.20 L137.02,47.38 L137.41,51.34 L137.80,55.00 L138.21,58.35 L138.63,61.88 L139.04,65.22 L139.40,68.00 L139.70,69.62 L139.96,70.44 L140.21,71.54 L140.50,74.00 L140.85,78.38 L141.23,84.00 L141.62,90.12 L142.00,96.00 L142.36,101.78 L142.71,107.75 L143.05,113.34 L143.40,118.00 L143.75,121.41 L144.09,123.94 L144.44,125.99 L144.80,128.00 L145.17,130.03 L145.56,131.88 L145.96,133.53 L146.40,135.00 L146.88,136.26 L147.39,137.31 L147.94,138.21 L148.50,139.00 L149.16,139.69 L149.88,140.25 L150.54,140.69 L151.00,141.00 L151.00,141.00 Z" fill="#808080" stroke="none" stroke-width="1" opacity="0.85"/>
<path d="M131.00,141.00 L131.00,140.95 L131.13,140.91 L131.27,140.83 L131.40,140.70 L131.53,140.49 L131.67,140.16 L131.80,139.64 L131.93,138.88 L132.07,137.80 L132.20,136.29 L132.33,134.27 L132.47,131.65 L132.60,128.35 L132.73,124.34 L132.87,119.60 L133.00,114.18 L133.13,108.18 L133.27,101.75 L133.40,95.07 L133.53,88.36 L133.67,81.87 L133.80,75.81 L133.93,70.40 L134.07,65.78 L134.20,62.06 L134.33,59.29 L134.47,57.43 L134.60,56.40 L134.73,56.03 L134.87,56.02 L135.00,56.35 L135.13,57.25 L135.27,58.86 L135.40,61.28 L135.53,64.54 L135.67,68.63 L135.80,73.47 L135.93,78.94 L136.07,84.89 L136.20,91.14 L136.33,97.49 L136.47,103.75 L136.60,109.73 L136.73,115.29 L136.87,120.30 L137.00,124.70 L137.13,128.45 L137.27,131.57 L137.40,134.08 L137.53,136.04 L137.67,137.54 L137.80,138.64 L137.93,139.44 L138.07,139.99 L138.20,140.37 L138.33,140.62 L138.47,140.77 L138.60,140.87 L138.73,140.93 L138.87,140.96 L139.00,140.98 L139.00,141.00 Z" fill="#333" stroke="none" stroke-width="1" opacity="0.45"/>
<line x1="111.80" y1="74.00" x2="213.40" y2="74.00" stroke="#a9b7c4" stroke-width="1.0" stroke-linecap="butt"/>
<line x1="111.80" y1="96.30" x2="213.40" y2="96.30" stroke="#efcfae" stroke-width="0.9" stroke-linecap="butt"/>
<line x1="111.80" y1="118.60" x2="213.40" y2="118.60" stroke="#e9a3a3" stroke-width="0.9" stroke-linecap="butt"/>
<line x1="111.80" y1="141.00" x2="213.40" y2="141.00" stroke="#666" stroke-width="1.0" stroke-linecap="butt"/>
<line x1="157.80" y1="11.50" x2="157.80" y2="141.00" stroke="#1d2a38" stroke-width="1.6" stroke-linecap="butt" stroke-dasharray="5 2.2 1.2 2.2"/>
<text x="212.00" y="77.00" font-size="10" text-anchor="start" fill="#9cc6ea" stroke="#9cc6ea" stroke-width="0.2" textLength="28.2" lengthAdjust="spacingAndGlyphs">Tumor</text>
<text x="212.00" y="99.20" font-size="10" text-anchor="start" fill="#f4c690" stroke="#f4c690" stroke-width="0.2" textLength="42.9" lengthAdjust="spacingAndGlyphs">Peritumor</text>
<text x="212.00" y="120.40" font-size="10" text-anchor="start" fill="#e99796" stroke="#e99796" stroke-width="0.2" textLength="31.5" lengthAdjust="spacingAndGlyphs">Normal</text>
<text x="212.00" y="142.70" font-size="10" text-anchor="start" fill="#a8a8a8" stroke="#a8a8a8" stroke-width="0.2" textLength="31.5" lengthAdjust="spacingAndGlyphs">Isotype</text>
<line x1="27.70" y1="159.20" x2="95.20" y2="159.20" stroke="#111" stroke-width="1.7" stroke-linecap="butt"/>
<path d="M88.8,154.7 L95.8,159.2 L88.8,163.7" fill="none" stroke="#111" stroke-width="1.7"/>
<line x1="125.00" y1="159.20" x2="192.20" y2="159.20" stroke="#111" stroke-width="1.7" stroke-linecap="butt"/>
<path d="M185.8,154.7 L192.8,159.2 L185.8,163.7" fill="none" stroke="#111" stroke-width="1.7"/>
<text x="61.20" y="176.50" font-size="10.5" text-anchor="middle" fill="#1a1a1a" stroke="#1a1a1a" stroke-width="0.2" textLength="31" lengthAdjust="spacingAndGlyphs">CD160</text>
<text x="159.00" y="176.50" font-size="10.5" text-anchor="middle" fill="#1a1a1a" stroke="#1a1a1a" stroke-width="0.2" textLength="24" lengthAdjust="spacingAndGlyphs">BTLA</text>
<text x="9.10" y="106.70" font-size="9.9" text-anchor="middle" fill="#1a1a1a" stroke="#1a1a1a" stroke-width="0.2" transform="rotate(-90 9.10 106.70)" textLength="59" lengthAdjust="spacingAndGlyphs">Events (%max)</text>
<text x="1.20" y="13.80" font-size="17.5" text-anchor="start" fill="#000" font-weight="bold">A</text>
<text x="268.30" y="13.80" font-size="17.5" text-anchor="start" fill="#000" font-weight="bold">B</text>
<text x="1.50" y="210.90" font-size="17.5" text-anchor="start" fill="#000" font-weight="bold">C</text>
<text x="264.00" y="210.90" font-size="17.5" text-anchor="start" fill="#000" font-weight="bold">D</text>
<text x="1.80" y="396.30" font-size="17.5" text-anchor="start" fill="#000" font-weight="bold">E</text>
<text x="131.00" y="396.30" font-size="17.5" text-anchor="start" fill="#000" font-weight="bold">F</text>
</svg></body></html>
